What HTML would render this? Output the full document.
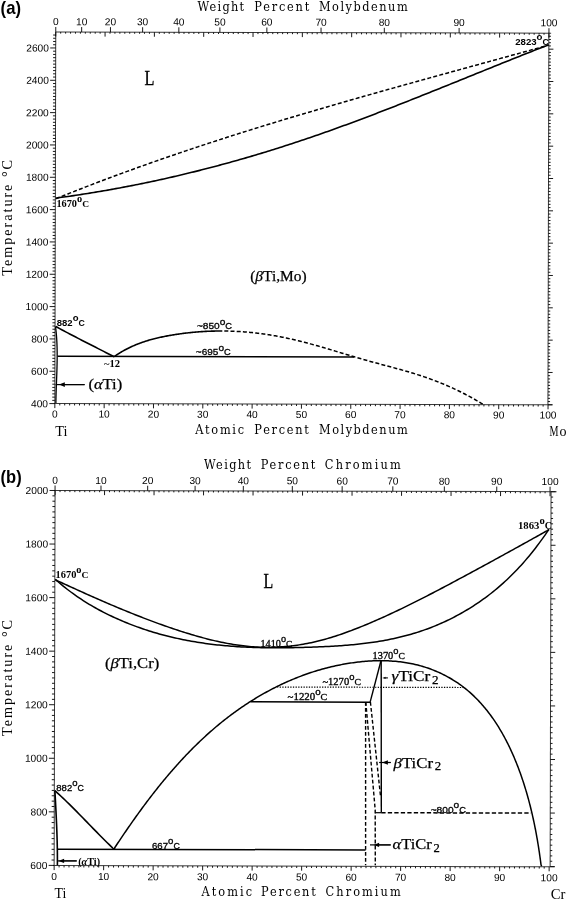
<!DOCTYPE html>
<html><head><meta charset="utf-8"><title>Ti-Mo and Ti-Cr phase diagrams</title><style>html,body{margin:0;padding:0;background:#fff;}svg{display:block;}</style></head><body>
<svg xmlns="http://www.w3.org/2000/svg" width="567" height="900" viewBox="0 0 567 900">
<rect width="567" height="900" fill="#fff"/>
<g stroke="#000" fill="none" stroke-linecap="butt" stroke-linejoin="round">
<g transform="rotate(0.14 302 218)">
<line x1="55.3" y1="32.6" x2="550.7" y2="32.6" stroke-width="1" stroke="#3a3a3a"/>
<line x1="54.3" y1="404.2" x2="552.9" y2="404.2" stroke-width="1" stroke="#3a3a3a"/>
<line x1="55.3" y1="32.6" x2="55.3" y2="404.2" stroke-width="1" stroke="#3a3a3a"/>
<line x1="548.4" y1="32.1" x2="548.4" y2="404.2" stroke-width="1" stroke="#3a3a3a"/>
<line x1="49.8" y1="404.2" x2="55.3" y2="404.2" stroke-width="0.9"/>
<line x1="548.4" y1="404.2" x2="553" y2="404.2" stroke-width="0.9"/>
<line x1="52.7" y1="400.97" x2="55.3" y2="400.97" stroke-width="0.9"/>
<line x1="548.4" y1="400.97" x2="550.5" y2="400.97" stroke-width="0.9"/>
<line x1="52.7" y1="397.73" x2="55.3" y2="397.73" stroke-width="0.9"/>
<line x1="548.4" y1="397.73" x2="550.5" y2="397.73" stroke-width="0.9"/>
<line x1="52.7" y1="394.5" x2="55.3" y2="394.5" stroke-width="0.9"/>
<line x1="548.4" y1="394.5" x2="550.5" y2="394.5" stroke-width="0.9"/>
<line x1="52.7" y1="391.27" x2="55.3" y2="391.27" stroke-width="0.9"/>
<line x1="548.4" y1="391.27" x2="550.5" y2="391.27" stroke-width="0.9"/>
<line x1="52.7" y1="388.03" x2="55.3" y2="388.03" stroke-width="0.9"/>
<line x1="548.4" y1="388.03" x2="550.5" y2="388.03" stroke-width="0.9"/>
<line x1="52.7" y1="384.8" x2="55.3" y2="384.8" stroke-width="0.9"/>
<line x1="548.4" y1="384.8" x2="550.5" y2="384.8" stroke-width="0.9"/>
<line x1="52.7" y1="381.57" x2="55.3" y2="381.57" stroke-width="0.9"/>
<line x1="548.4" y1="381.57" x2="550.5" y2="381.57" stroke-width="0.9"/>
<line x1="52.7" y1="378.34" x2="55.3" y2="378.34" stroke-width="0.9"/>
<line x1="548.4" y1="378.34" x2="550.5" y2="378.34" stroke-width="0.9"/>
<line x1="52.7" y1="375.1" x2="55.3" y2="375.1" stroke-width="0.9"/>
<line x1="548.4" y1="375.1" x2="550.5" y2="375.1" stroke-width="0.9"/>
<line x1="49.8" y1="371.87" x2="55.3" y2="371.87" stroke-width="0.9"/>
<line x1="548.4" y1="371.87" x2="553" y2="371.87" stroke-width="0.9"/>
<line x1="52.7" y1="368.64" x2="55.3" y2="368.64" stroke-width="0.9"/>
<line x1="548.4" y1="368.64" x2="550.5" y2="368.64" stroke-width="0.9"/>
<line x1="52.7" y1="365.4" x2="55.3" y2="365.4" stroke-width="0.9"/>
<line x1="548.4" y1="365.4" x2="550.5" y2="365.4" stroke-width="0.9"/>
<line x1="52.7" y1="362.17" x2="55.3" y2="362.17" stroke-width="0.9"/>
<line x1="548.4" y1="362.17" x2="550.5" y2="362.17" stroke-width="0.9"/>
<line x1="52.7" y1="358.94" x2="55.3" y2="358.94" stroke-width="0.9"/>
<line x1="548.4" y1="358.94" x2="550.5" y2="358.94" stroke-width="0.9"/>
<line x1="52.7" y1="355.7" x2="55.3" y2="355.7" stroke-width="0.9"/>
<line x1="548.4" y1="355.7" x2="550.5" y2="355.7" stroke-width="0.9"/>
<line x1="52.7" y1="352.47" x2="55.3" y2="352.47" stroke-width="0.9"/>
<line x1="548.4" y1="352.47" x2="550.5" y2="352.47" stroke-width="0.9"/>
<line x1="52.7" y1="349.24" x2="55.3" y2="349.24" stroke-width="0.9"/>
<line x1="548.4" y1="349.24" x2="550.5" y2="349.24" stroke-width="0.9"/>
<line x1="52.7" y1="346.01" x2="55.3" y2="346.01" stroke-width="0.9"/>
<line x1="548.4" y1="346.01" x2="550.5" y2="346.01" stroke-width="0.9"/>
<line x1="52.7" y1="342.77" x2="55.3" y2="342.77" stroke-width="0.9"/>
<line x1="548.4" y1="342.77" x2="550.5" y2="342.77" stroke-width="0.9"/>
<line x1="49.8" y1="339.54" x2="55.3" y2="339.54" stroke-width="0.9"/>
<line x1="548.4" y1="339.54" x2="553" y2="339.54" stroke-width="0.9"/>
<line x1="52.7" y1="336.31" x2="55.3" y2="336.31" stroke-width="0.9"/>
<line x1="548.4" y1="336.31" x2="550.5" y2="336.31" stroke-width="0.9"/>
<line x1="52.7" y1="333.07" x2="55.3" y2="333.07" stroke-width="0.9"/>
<line x1="548.4" y1="333.07" x2="550.5" y2="333.07" stroke-width="0.9"/>
<line x1="52.7" y1="329.84" x2="55.3" y2="329.84" stroke-width="0.9"/>
<line x1="548.4" y1="329.84" x2="550.5" y2="329.84" stroke-width="0.9"/>
<line x1="52.7" y1="326.61" x2="55.3" y2="326.61" stroke-width="0.9"/>
<line x1="548.4" y1="326.61" x2="550.5" y2="326.61" stroke-width="0.9"/>
<line x1="52.7" y1="323.38" x2="55.3" y2="323.38" stroke-width="0.9"/>
<line x1="548.4" y1="323.38" x2="550.5" y2="323.38" stroke-width="0.9"/>
<line x1="52.7" y1="320.14" x2="55.3" y2="320.14" stroke-width="0.9"/>
<line x1="548.4" y1="320.14" x2="550.5" y2="320.14" stroke-width="0.9"/>
<line x1="52.7" y1="316.91" x2="55.3" y2="316.91" stroke-width="0.9"/>
<line x1="548.4" y1="316.91" x2="550.5" y2="316.91" stroke-width="0.9"/>
<line x1="52.7" y1="313.68" x2="55.3" y2="313.68" stroke-width="0.9"/>
<line x1="548.4" y1="313.68" x2="550.5" y2="313.68" stroke-width="0.9"/>
<line x1="52.7" y1="310.44" x2="55.3" y2="310.44" stroke-width="0.9"/>
<line x1="548.4" y1="310.44" x2="550.5" y2="310.44" stroke-width="0.9"/>
<line x1="49.8" y1="307.21" x2="55.3" y2="307.21" stroke-width="0.9"/>
<line x1="548.4" y1="307.21" x2="553" y2="307.21" stroke-width="0.9"/>
<line x1="52.7" y1="303.98" x2="55.3" y2="303.98" stroke-width="0.9"/>
<line x1="548.4" y1="303.98" x2="550.5" y2="303.98" stroke-width="0.9"/>
<line x1="52.7" y1="300.74" x2="55.3" y2="300.74" stroke-width="0.9"/>
<line x1="548.4" y1="300.74" x2="550.5" y2="300.74" stroke-width="0.9"/>
<line x1="52.7" y1="297.51" x2="55.3" y2="297.51" stroke-width="0.9"/>
<line x1="548.4" y1="297.51" x2="550.5" y2="297.51" stroke-width="0.9"/>
<line x1="52.7" y1="294.28" x2="55.3" y2="294.28" stroke-width="0.9"/>
<line x1="548.4" y1="294.28" x2="550.5" y2="294.28" stroke-width="0.9"/>
<line x1="52.7" y1="291.05" x2="55.3" y2="291.05" stroke-width="0.9"/>
<line x1="548.4" y1="291.05" x2="550.5" y2="291.05" stroke-width="0.9"/>
<line x1="52.7" y1="287.81" x2="55.3" y2="287.81" stroke-width="0.9"/>
<line x1="548.4" y1="287.81" x2="550.5" y2="287.81" stroke-width="0.9"/>
<line x1="52.7" y1="284.58" x2="55.3" y2="284.58" stroke-width="0.9"/>
<line x1="548.4" y1="284.58" x2="550.5" y2="284.58" stroke-width="0.9"/>
<line x1="52.7" y1="281.35" x2="55.3" y2="281.35" stroke-width="0.9"/>
<line x1="548.4" y1="281.35" x2="550.5" y2="281.35" stroke-width="0.9"/>
<line x1="52.7" y1="278.11" x2="55.3" y2="278.11" stroke-width="0.9"/>
<line x1="548.4" y1="278.11" x2="550.5" y2="278.11" stroke-width="0.9"/>
<line x1="49.8" y1="274.88" x2="55.3" y2="274.88" stroke-width="0.9"/>
<line x1="548.4" y1="274.88" x2="553" y2="274.88" stroke-width="0.9"/>
<line x1="52.7" y1="271.65" x2="55.3" y2="271.65" stroke-width="0.9"/>
<line x1="548.4" y1="271.65" x2="550.5" y2="271.65" stroke-width="0.9"/>
<line x1="52.7" y1="268.41" x2="55.3" y2="268.41" stroke-width="0.9"/>
<line x1="548.4" y1="268.41" x2="550.5" y2="268.41" stroke-width="0.9"/>
<line x1="52.7" y1="265.18" x2="55.3" y2="265.18" stroke-width="0.9"/>
<line x1="548.4" y1="265.18" x2="550.5" y2="265.18" stroke-width="0.9"/>
<line x1="52.7" y1="261.95" x2="55.3" y2="261.95" stroke-width="0.9"/>
<line x1="548.4" y1="261.95" x2="550.5" y2="261.95" stroke-width="0.9"/>
<line x1="52.7" y1="258.72" x2="55.3" y2="258.72" stroke-width="0.9"/>
<line x1="548.4" y1="258.72" x2="550.5" y2="258.72" stroke-width="0.9"/>
<line x1="52.7" y1="255.48" x2="55.3" y2="255.48" stroke-width="0.9"/>
<line x1="548.4" y1="255.48" x2="550.5" y2="255.48" stroke-width="0.9"/>
<line x1="52.7" y1="252.25" x2="55.3" y2="252.25" stroke-width="0.9"/>
<line x1="548.4" y1="252.25" x2="550.5" y2="252.25" stroke-width="0.9"/>
<line x1="52.7" y1="249.02" x2="55.3" y2="249.02" stroke-width="0.9"/>
<line x1="548.4" y1="249.02" x2="550.5" y2="249.02" stroke-width="0.9"/>
<line x1="52.7" y1="245.78" x2="55.3" y2="245.78" stroke-width="0.9"/>
<line x1="548.4" y1="245.78" x2="550.5" y2="245.78" stroke-width="0.9"/>
<line x1="49.8" y1="242.55" x2="55.3" y2="242.55" stroke-width="0.9"/>
<line x1="548.4" y1="242.55" x2="553" y2="242.55" stroke-width="0.9"/>
<line x1="52.7" y1="239.32" x2="55.3" y2="239.32" stroke-width="0.9"/>
<line x1="548.4" y1="239.32" x2="550.5" y2="239.32" stroke-width="0.9"/>
<line x1="52.7" y1="236.08" x2="55.3" y2="236.08" stroke-width="0.9"/>
<line x1="548.4" y1="236.08" x2="550.5" y2="236.08" stroke-width="0.9"/>
<line x1="52.7" y1="232.85" x2="55.3" y2="232.85" stroke-width="0.9"/>
<line x1="548.4" y1="232.85" x2="550.5" y2="232.85" stroke-width="0.9"/>
<line x1="52.7" y1="229.62" x2="55.3" y2="229.62" stroke-width="0.9"/>
<line x1="548.4" y1="229.62" x2="550.5" y2="229.62" stroke-width="0.9"/>
<line x1="52.7" y1="226.38" x2="55.3" y2="226.38" stroke-width="0.9"/>
<line x1="548.4" y1="226.38" x2="550.5" y2="226.38" stroke-width="0.9"/>
<line x1="52.7" y1="223.15" x2="55.3" y2="223.15" stroke-width="0.9"/>
<line x1="548.4" y1="223.15" x2="550.5" y2="223.15" stroke-width="0.9"/>
<line x1="52.7" y1="219.92" x2="55.3" y2="219.92" stroke-width="0.9"/>
<line x1="548.4" y1="219.92" x2="550.5" y2="219.92" stroke-width="0.9"/>
<line x1="52.7" y1="216.69" x2="55.3" y2="216.69" stroke-width="0.9"/>
<line x1="548.4" y1="216.69" x2="550.5" y2="216.69" stroke-width="0.9"/>
<line x1="52.7" y1="213.45" x2="55.3" y2="213.45" stroke-width="0.9"/>
<line x1="548.4" y1="213.45" x2="550.5" y2="213.45" stroke-width="0.9"/>
<line x1="49.8" y1="210.22" x2="55.3" y2="210.22" stroke-width="0.9"/>
<line x1="548.4" y1="210.22" x2="553" y2="210.22" stroke-width="0.9"/>
<line x1="52.7" y1="206.99" x2="55.3" y2="206.99" stroke-width="0.9"/>
<line x1="548.4" y1="206.99" x2="550.5" y2="206.99" stroke-width="0.9"/>
<line x1="52.7" y1="203.75" x2="55.3" y2="203.75" stroke-width="0.9"/>
<line x1="548.4" y1="203.75" x2="550.5" y2="203.75" stroke-width="0.9"/>
<line x1="52.7" y1="200.52" x2="55.3" y2="200.52" stroke-width="0.9"/>
<line x1="548.4" y1="200.52" x2="550.5" y2="200.52" stroke-width="0.9"/>
<line x1="52.7" y1="197.29" x2="55.3" y2="197.29" stroke-width="0.9"/>
<line x1="548.4" y1="197.29" x2="550.5" y2="197.29" stroke-width="0.9"/>
<line x1="52.7" y1="194.06" x2="55.3" y2="194.06" stroke-width="0.9"/>
<line x1="548.4" y1="194.06" x2="550.5" y2="194.06" stroke-width="0.9"/>
<line x1="52.7" y1="190.82" x2="55.3" y2="190.82" stroke-width="0.9"/>
<line x1="548.4" y1="190.82" x2="550.5" y2="190.82" stroke-width="0.9"/>
<line x1="52.7" y1="187.59" x2="55.3" y2="187.59" stroke-width="0.9"/>
<line x1="548.4" y1="187.59" x2="550.5" y2="187.59" stroke-width="0.9"/>
<line x1="52.7" y1="184.36" x2="55.3" y2="184.36" stroke-width="0.9"/>
<line x1="548.4" y1="184.36" x2="550.5" y2="184.36" stroke-width="0.9"/>
<line x1="52.7" y1="181.12" x2="55.3" y2="181.12" stroke-width="0.9"/>
<line x1="548.4" y1="181.12" x2="550.5" y2="181.12" stroke-width="0.9"/>
<line x1="49.8" y1="177.89" x2="55.3" y2="177.89" stroke-width="0.9"/>
<line x1="548.4" y1="177.89" x2="553" y2="177.89" stroke-width="0.9"/>
<line x1="52.7" y1="174.66" x2="55.3" y2="174.66" stroke-width="0.9"/>
<line x1="548.4" y1="174.66" x2="550.5" y2="174.66" stroke-width="0.9"/>
<line x1="52.7" y1="171.42" x2="55.3" y2="171.42" stroke-width="0.9"/>
<line x1="548.4" y1="171.42" x2="550.5" y2="171.42" stroke-width="0.9"/>
<line x1="52.7" y1="168.19" x2="55.3" y2="168.19" stroke-width="0.9"/>
<line x1="548.4" y1="168.19" x2="550.5" y2="168.19" stroke-width="0.9"/>
<line x1="52.7" y1="164.96" x2="55.3" y2="164.96" stroke-width="0.9"/>
<line x1="548.4" y1="164.96" x2="550.5" y2="164.96" stroke-width="0.9"/>
<line x1="52.7" y1="161.72" x2="55.3" y2="161.72" stroke-width="0.9"/>
<line x1="548.4" y1="161.72" x2="550.5" y2="161.72" stroke-width="0.9"/>
<line x1="52.7" y1="158.49" x2="55.3" y2="158.49" stroke-width="0.9"/>
<line x1="548.4" y1="158.49" x2="550.5" y2="158.49" stroke-width="0.9"/>
<line x1="52.7" y1="155.26" x2="55.3" y2="155.26" stroke-width="0.9"/>
<line x1="548.4" y1="155.26" x2="550.5" y2="155.26" stroke-width="0.9"/>
<line x1="52.7" y1="152.03" x2="55.3" y2="152.03" stroke-width="0.9"/>
<line x1="548.4" y1="152.03" x2="550.5" y2="152.03" stroke-width="0.9"/>
<line x1="52.7" y1="148.79" x2="55.3" y2="148.79" stroke-width="0.9"/>
<line x1="548.4" y1="148.79" x2="550.5" y2="148.79" stroke-width="0.9"/>
<line x1="49.8" y1="145.56" x2="55.3" y2="145.56" stroke-width="0.9"/>
<line x1="548.4" y1="145.56" x2="553" y2="145.56" stroke-width="0.9"/>
<line x1="52.7" y1="142.33" x2="55.3" y2="142.33" stroke-width="0.9"/>
<line x1="548.4" y1="142.33" x2="550.5" y2="142.33" stroke-width="0.9"/>
<line x1="52.7" y1="139.09" x2="55.3" y2="139.09" stroke-width="0.9"/>
<line x1="548.4" y1="139.09" x2="550.5" y2="139.09" stroke-width="0.9"/>
<line x1="52.7" y1="135.86" x2="55.3" y2="135.86" stroke-width="0.9"/>
<line x1="548.4" y1="135.86" x2="550.5" y2="135.86" stroke-width="0.9"/>
<line x1="52.7" y1="132.63" x2="55.3" y2="132.63" stroke-width="0.9"/>
<line x1="548.4" y1="132.63" x2="550.5" y2="132.63" stroke-width="0.9"/>
<line x1="52.7" y1="129.39" x2="55.3" y2="129.39" stroke-width="0.9"/>
<line x1="548.4" y1="129.39" x2="550.5" y2="129.39" stroke-width="0.9"/>
<line x1="52.7" y1="126.16" x2="55.3" y2="126.16" stroke-width="0.9"/>
<line x1="548.4" y1="126.16" x2="550.5" y2="126.16" stroke-width="0.9"/>
<line x1="52.7" y1="122.93" x2="55.3" y2="122.93" stroke-width="0.9"/>
<line x1="548.4" y1="122.93" x2="550.5" y2="122.93" stroke-width="0.9"/>
<line x1="52.7" y1="119.7" x2="55.3" y2="119.7" stroke-width="0.9"/>
<line x1="548.4" y1="119.7" x2="550.5" y2="119.7" stroke-width="0.9"/>
<line x1="52.7" y1="116.46" x2="55.3" y2="116.46" stroke-width="0.9"/>
<line x1="548.4" y1="116.46" x2="550.5" y2="116.46" stroke-width="0.9"/>
<line x1="49.8" y1="113.23" x2="55.3" y2="113.23" stroke-width="0.9"/>
<line x1="548.4" y1="113.23" x2="553" y2="113.23" stroke-width="0.9"/>
<line x1="52.7" y1="110" x2="55.3" y2="110" stroke-width="0.9"/>
<line x1="548.4" y1="110" x2="550.5" y2="110" stroke-width="0.9"/>
<line x1="52.7" y1="106.76" x2="55.3" y2="106.76" stroke-width="0.9"/>
<line x1="548.4" y1="106.76" x2="550.5" y2="106.76" stroke-width="0.9"/>
<line x1="52.7" y1="103.53" x2="55.3" y2="103.53" stroke-width="0.9"/>
<line x1="548.4" y1="103.53" x2="550.5" y2="103.53" stroke-width="0.9"/>
<line x1="52.7" y1="100.3" x2="55.3" y2="100.3" stroke-width="0.9"/>
<line x1="548.4" y1="100.3" x2="550.5" y2="100.3" stroke-width="0.9"/>
<line x1="52.7" y1="97.06" x2="55.3" y2="97.06" stroke-width="0.9"/>
<line x1="548.4" y1="97.06" x2="550.5" y2="97.06" stroke-width="0.9"/>
<line x1="52.7" y1="93.83" x2="55.3" y2="93.83" stroke-width="0.9"/>
<line x1="548.4" y1="93.83" x2="550.5" y2="93.83" stroke-width="0.9"/>
<line x1="52.7" y1="90.6" x2="55.3" y2="90.6" stroke-width="0.9"/>
<line x1="548.4" y1="90.6" x2="550.5" y2="90.6" stroke-width="0.9"/>
<line x1="52.7" y1="87.37" x2="55.3" y2="87.37" stroke-width="0.9"/>
<line x1="548.4" y1="87.37" x2="550.5" y2="87.37" stroke-width="0.9"/>
<line x1="52.7" y1="84.13" x2="55.3" y2="84.13" stroke-width="0.9"/>
<line x1="548.4" y1="84.13" x2="550.5" y2="84.13" stroke-width="0.9"/>
<line x1="49.8" y1="80.9" x2="55.3" y2="80.9" stroke-width="0.9"/>
<line x1="548.4" y1="80.9" x2="553" y2="80.9" stroke-width="0.9"/>
<line x1="52.7" y1="77.67" x2="55.3" y2="77.67" stroke-width="0.9"/>
<line x1="548.4" y1="77.67" x2="550.5" y2="77.67" stroke-width="0.9"/>
<line x1="52.7" y1="74.43" x2="55.3" y2="74.43" stroke-width="0.9"/>
<line x1="548.4" y1="74.43" x2="550.5" y2="74.43" stroke-width="0.9"/>
<line x1="52.7" y1="71.2" x2="55.3" y2="71.2" stroke-width="0.9"/>
<line x1="548.4" y1="71.2" x2="550.5" y2="71.2" stroke-width="0.9"/>
<line x1="52.7" y1="67.97" x2="55.3" y2="67.97" stroke-width="0.9"/>
<line x1="548.4" y1="67.97" x2="550.5" y2="67.97" stroke-width="0.9"/>
<line x1="52.7" y1="64.74" x2="55.3" y2="64.74" stroke-width="0.9"/>
<line x1="548.4" y1="64.74" x2="550.5" y2="64.74" stroke-width="0.9"/>
<line x1="52.7" y1="61.5" x2="55.3" y2="61.5" stroke-width="0.9"/>
<line x1="548.4" y1="61.5" x2="550.5" y2="61.5" stroke-width="0.9"/>
<line x1="52.7" y1="58.27" x2="55.3" y2="58.27" stroke-width="0.9"/>
<line x1="548.4" y1="58.27" x2="550.5" y2="58.27" stroke-width="0.9"/>
<line x1="52.7" y1="55.04" x2="55.3" y2="55.04" stroke-width="0.9"/>
<line x1="548.4" y1="55.04" x2="550.5" y2="55.04" stroke-width="0.9"/>
<line x1="52.7" y1="51.8" x2="55.3" y2="51.8" stroke-width="0.9"/>
<line x1="548.4" y1="51.8" x2="550.5" y2="51.8" stroke-width="0.9"/>
<line x1="49.8" y1="48.57" x2="55.3" y2="48.57" stroke-width="0.9"/>
<line x1="548.4" y1="48.57" x2="553" y2="48.57" stroke-width="0.9"/>
<line x1="52.7" y1="45.34" x2="55.3" y2="45.34" stroke-width="0.9"/>
<line x1="548.4" y1="45.34" x2="550.5" y2="45.34" stroke-width="0.9"/>
<line x1="52.7" y1="42.1" x2="55.3" y2="42.1" stroke-width="0.9"/>
<line x1="548.4" y1="42.1" x2="550.5" y2="42.1" stroke-width="0.9"/>
<line x1="52.7" y1="38.87" x2="55.3" y2="38.87" stroke-width="0.9"/>
<line x1="548.4" y1="38.87" x2="550.5" y2="38.87" stroke-width="0.9"/>
<line x1="52.7" y1="35.64" x2="55.3" y2="35.64" stroke-width="0.9"/>
<line x1="548.4" y1="35.64" x2="550.5" y2="35.64" stroke-width="0.9"/>
<line x1="55.3" y1="404.2" x2="55.3" y2="408.7" stroke-width="0.9"/>
<line x1="55.3" y1="32.6" x2="55.3" y2="37.1" stroke-width="0.9"/>
<line x1="60.23" y1="404.2" x2="60.23" y2="406" stroke-width="0.9"/>
<line x1="60.23" y1="32.6" x2="60.23" y2="34.2" stroke-width="0.9"/>
<line x1="65.16" y1="404.2" x2="65.16" y2="406" stroke-width="0.9"/>
<line x1="65.16" y1="32.6" x2="65.16" y2="34.2" stroke-width="0.9"/>
<line x1="70.1" y1="404.2" x2="70.1" y2="406" stroke-width="0.9"/>
<line x1="70.1" y1="32.6" x2="70.1" y2="34.2" stroke-width="0.9"/>
<line x1="75.03" y1="404.2" x2="75.03" y2="406" stroke-width="0.9"/>
<line x1="75.03" y1="32.6" x2="75.03" y2="34.2" stroke-width="0.9"/>
<line x1="79.96" y1="404.2" x2="79.96" y2="406" stroke-width="0.9"/>
<line x1="79.96" y1="32.6" x2="79.96" y2="34.2" stroke-width="0.9"/>
<line x1="84.89" y1="404.2" x2="84.89" y2="406" stroke-width="0.9"/>
<line x1="84.89" y1="32.6" x2="84.89" y2="34.2" stroke-width="0.9"/>
<line x1="89.82" y1="404.2" x2="89.82" y2="406" stroke-width="0.9"/>
<line x1="89.82" y1="32.6" x2="89.82" y2="34.2" stroke-width="0.9"/>
<line x1="94.76" y1="404.2" x2="94.76" y2="406" stroke-width="0.9"/>
<line x1="94.76" y1="32.6" x2="94.76" y2="34.2" stroke-width="0.9"/>
<line x1="99.69" y1="404.2" x2="99.69" y2="406" stroke-width="0.9"/>
<line x1="99.69" y1="32.6" x2="99.69" y2="34.2" stroke-width="0.9"/>
<line x1="104.62" y1="404.2" x2="104.62" y2="408.7" stroke-width="0.9"/>
<line x1="104.62" y1="32.6" x2="104.62" y2="37.1" stroke-width="0.9"/>
<line x1="109.55" y1="404.2" x2="109.55" y2="406" stroke-width="0.9"/>
<line x1="109.55" y1="32.6" x2="109.55" y2="34.2" stroke-width="0.9"/>
<line x1="114.48" y1="404.2" x2="114.48" y2="406" stroke-width="0.9"/>
<line x1="114.48" y1="32.6" x2="114.48" y2="34.2" stroke-width="0.9"/>
<line x1="119.42" y1="404.2" x2="119.42" y2="406" stroke-width="0.9"/>
<line x1="119.42" y1="32.6" x2="119.42" y2="34.2" stroke-width="0.9"/>
<line x1="124.35" y1="404.2" x2="124.35" y2="406" stroke-width="0.9"/>
<line x1="124.35" y1="32.6" x2="124.35" y2="34.2" stroke-width="0.9"/>
<line x1="129.28" y1="404.2" x2="129.28" y2="406" stroke-width="0.9"/>
<line x1="129.28" y1="32.6" x2="129.28" y2="34.2" stroke-width="0.9"/>
<line x1="134.21" y1="404.2" x2="134.21" y2="406" stroke-width="0.9"/>
<line x1="134.21" y1="32.6" x2="134.21" y2="34.2" stroke-width="0.9"/>
<line x1="139.14" y1="404.2" x2="139.14" y2="406" stroke-width="0.9"/>
<line x1="139.14" y1="32.6" x2="139.14" y2="34.2" stroke-width="0.9"/>
<line x1="144.08" y1="404.2" x2="144.08" y2="406" stroke-width="0.9"/>
<line x1="144.08" y1="32.6" x2="144.08" y2="34.2" stroke-width="0.9"/>
<line x1="149.01" y1="404.2" x2="149.01" y2="406" stroke-width="0.9"/>
<line x1="149.01" y1="32.6" x2="149.01" y2="34.2" stroke-width="0.9"/>
<line x1="153.94" y1="404.2" x2="153.94" y2="408.7" stroke-width="0.9"/>
<line x1="153.94" y1="32.6" x2="153.94" y2="37.1" stroke-width="0.9"/>
<line x1="158.87" y1="404.2" x2="158.87" y2="406" stroke-width="0.9"/>
<line x1="158.87" y1="32.6" x2="158.87" y2="34.2" stroke-width="0.9"/>
<line x1="163.8" y1="404.2" x2="163.8" y2="406" stroke-width="0.9"/>
<line x1="163.8" y1="32.6" x2="163.8" y2="34.2" stroke-width="0.9"/>
<line x1="168.74" y1="404.2" x2="168.74" y2="406" stroke-width="0.9"/>
<line x1="168.74" y1="32.6" x2="168.74" y2="34.2" stroke-width="0.9"/>
<line x1="173.67" y1="404.2" x2="173.67" y2="406" stroke-width="0.9"/>
<line x1="173.67" y1="32.6" x2="173.67" y2="34.2" stroke-width="0.9"/>
<line x1="178.6" y1="404.2" x2="178.6" y2="406" stroke-width="0.9"/>
<line x1="178.6" y1="32.6" x2="178.6" y2="34.2" stroke-width="0.9"/>
<line x1="183.53" y1="404.2" x2="183.53" y2="406" stroke-width="0.9"/>
<line x1="183.53" y1="32.6" x2="183.53" y2="34.2" stroke-width="0.9"/>
<line x1="188.46" y1="404.2" x2="188.46" y2="406" stroke-width="0.9"/>
<line x1="188.46" y1="32.6" x2="188.46" y2="34.2" stroke-width="0.9"/>
<line x1="193.4" y1="404.2" x2="193.4" y2="406" stroke-width="0.9"/>
<line x1="193.4" y1="32.6" x2="193.4" y2="34.2" stroke-width="0.9"/>
<line x1="198.33" y1="404.2" x2="198.33" y2="406" stroke-width="0.9"/>
<line x1="198.33" y1="32.6" x2="198.33" y2="34.2" stroke-width="0.9"/>
<line x1="203.26" y1="404.2" x2="203.26" y2="408.7" stroke-width="0.9"/>
<line x1="203.26" y1="32.6" x2="203.26" y2="37.1" stroke-width="0.9"/>
<line x1="208.19" y1="404.2" x2="208.19" y2="406" stroke-width="0.9"/>
<line x1="208.19" y1="32.6" x2="208.19" y2="34.2" stroke-width="0.9"/>
<line x1="213.12" y1="404.2" x2="213.12" y2="406" stroke-width="0.9"/>
<line x1="213.12" y1="32.6" x2="213.12" y2="34.2" stroke-width="0.9"/>
<line x1="218.06" y1="404.2" x2="218.06" y2="406" stroke-width="0.9"/>
<line x1="218.06" y1="32.6" x2="218.06" y2="34.2" stroke-width="0.9"/>
<line x1="222.99" y1="404.2" x2="222.99" y2="406" stroke-width="0.9"/>
<line x1="222.99" y1="32.6" x2="222.99" y2="34.2" stroke-width="0.9"/>
<line x1="227.92" y1="404.2" x2="227.92" y2="406" stroke-width="0.9"/>
<line x1="227.92" y1="32.6" x2="227.92" y2="34.2" stroke-width="0.9"/>
<line x1="232.85" y1="404.2" x2="232.85" y2="406" stroke-width="0.9"/>
<line x1="232.85" y1="32.6" x2="232.85" y2="34.2" stroke-width="0.9"/>
<line x1="237.78" y1="404.2" x2="237.78" y2="406" stroke-width="0.9"/>
<line x1="237.78" y1="32.6" x2="237.78" y2="34.2" stroke-width="0.9"/>
<line x1="242.72" y1="404.2" x2="242.72" y2="406" stroke-width="0.9"/>
<line x1="242.72" y1="32.6" x2="242.72" y2="34.2" stroke-width="0.9"/>
<line x1="247.65" y1="404.2" x2="247.65" y2="406" stroke-width="0.9"/>
<line x1="247.65" y1="32.6" x2="247.65" y2="34.2" stroke-width="0.9"/>
<line x1="252.58" y1="404.2" x2="252.58" y2="408.7" stroke-width="0.9"/>
<line x1="252.58" y1="32.6" x2="252.58" y2="37.1" stroke-width="0.9"/>
<line x1="257.51" y1="404.2" x2="257.51" y2="406" stroke-width="0.9"/>
<line x1="257.51" y1="32.6" x2="257.51" y2="34.2" stroke-width="0.9"/>
<line x1="262.44" y1="404.2" x2="262.44" y2="406" stroke-width="0.9"/>
<line x1="262.44" y1="32.6" x2="262.44" y2="34.2" stroke-width="0.9"/>
<line x1="267.38" y1="404.2" x2="267.38" y2="406" stroke-width="0.9"/>
<line x1="267.38" y1="32.6" x2="267.38" y2="34.2" stroke-width="0.9"/>
<line x1="272.31" y1="404.2" x2="272.31" y2="406" stroke-width="0.9"/>
<line x1="272.31" y1="32.6" x2="272.31" y2="34.2" stroke-width="0.9"/>
<line x1="277.24" y1="404.2" x2="277.24" y2="406" stroke-width="0.9"/>
<line x1="277.24" y1="32.6" x2="277.24" y2="34.2" stroke-width="0.9"/>
<line x1="282.17" y1="404.2" x2="282.17" y2="406" stroke-width="0.9"/>
<line x1="282.17" y1="32.6" x2="282.17" y2="34.2" stroke-width="0.9"/>
<line x1="287.1" y1="404.2" x2="287.1" y2="406" stroke-width="0.9"/>
<line x1="287.1" y1="32.6" x2="287.1" y2="34.2" stroke-width="0.9"/>
<line x1="292.04" y1="404.2" x2="292.04" y2="406" stroke-width="0.9"/>
<line x1="292.04" y1="32.6" x2="292.04" y2="34.2" stroke-width="0.9"/>
<line x1="296.97" y1="404.2" x2="296.97" y2="406" stroke-width="0.9"/>
<line x1="296.97" y1="32.6" x2="296.97" y2="34.2" stroke-width="0.9"/>
<line x1="301.9" y1="404.2" x2="301.9" y2="408.7" stroke-width="0.9"/>
<line x1="301.9" y1="32.6" x2="301.9" y2="37.1" stroke-width="0.9"/>
<line x1="306.83" y1="404.2" x2="306.83" y2="406" stroke-width="0.9"/>
<line x1="306.83" y1="32.6" x2="306.83" y2="34.2" stroke-width="0.9"/>
<line x1="311.76" y1="404.2" x2="311.76" y2="406" stroke-width="0.9"/>
<line x1="311.76" y1="32.6" x2="311.76" y2="34.2" stroke-width="0.9"/>
<line x1="316.7" y1="404.2" x2="316.7" y2="406" stroke-width="0.9"/>
<line x1="316.7" y1="32.6" x2="316.7" y2="34.2" stroke-width="0.9"/>
<line x1="321.63" y1="404.2" x2="321.63" y2="406" stroke-width="0.9"/>
<line x1="321.63" y1="32.6" x2="321.63" y2="34.2" stroke-width="0.9"/>
<line x1="326.56" y1="404.2" x2="326.56" y2="406" stroke-width="0.9"/>
<line x1="326.56" y1="32.6" x2="326.56" y2="34.2" stroke-width="0.9"/>
<line x1="331.49" y1="404.2" x2="331.49" y2="406" stroke-width="0.9"/>
<line x1="331.49" y1="32.6" x2="331.49" y2="34.2" stroke-width="0.9"/>
<line x1="336.42" y1="404.2" x2="336.42" y2="406" stroke-width="0.9"/>
<line x1="336.42" y1="32.6" x2="336.42" y2="34.2" stroke-width="0.9"/>
<line x1="341.36" y1="404.2" x2="341.36" y2="406" stroke-width="0.9"/>
<line x1="341.36" y1="32.6" x2="341.36" y2="34.2" stroke-width="0.9"/>
<line x1="346.29" y1="404.2" x2="346.29" y2="406" stroke-width="0.9"/>
<line x1="346.29" y1="32.6" x2="346.29" y2="34.2" stroke-width="0.9"/>
<line x1="351.22" y1="404.2" x2="351.22" y2="408.7" stroke-width="0.9"/>
<line x1="351.22" y1="32.6" x2="351.22" y2="37.1" stroke-width="0.9"/>
<line x1="356.15" y1="404.2" x2="356.15" y2="406" stroke-width="0.9"/>
<line x1="356.15" y1="32.6" x2="356.15" y2="34.2" stroke-width="0.9"/>
<line x1="361.08" y1="404.2" x2="361.08" y2="406" stroke-width="0.9"/>
<line x1="361.08" y1="32.6" x2="361.08" y2="34.2" stroke-width="0.9"/>
<line x1="366.02" y1="404.2" x2="366.02" y2="406" stroke-width="0.9"/>
<line x1="366.02" y1="32.6" x2="366.02" y2="34.2" stroke-width="0.9"/>
<line x1="370.95" y1="404.2" x2="370.95" y2="406" stroke-width="0.9"/>
<line x1="370.95" y1="32.6" x2="370.95" y2="34.2" stroke-width="0.9"/>
<line x1="375.88" y1="404.2" x2="375.88" y2="406" stroke-width="0.9"/>
<line x1="375.88" y1="32.6" x2="375.88" y2="34.2" stroke-width="0.9"/>
<line x1="380.81" y1="404.2" x2="380.81" y2="406" stroke-width="0.9"/>
<line x1="380.81" y1="32.6" x2="380.81" y2="34.2" stroke-width="0.9"/>
<line x1="385.74" y1="404.2" x2="385.74" y2="406" stroke-width="0.9"/>
<line x1="385.74" y1="32.6" x2="385.74" y2="34.2" stroke-width="0.9"/>
<line x1="390.68" y1="404.2" x2="390.68" y2="406" stroke-width="0.9"/>
<line x1="390.68" y1="32.6" x2="390.68" y2="34.2" stroke-width="0.9"/>
<line x1="395.61" y1="404.2" x2="395.61" y2="406" stroke-width="0.9"/>
<line x1="395.61" y1="32.6" x2="395.61" y2="34.2" stroke-width="0.9"/>
<line x1="400.54" y1="404.2" x2="400.54" y2="408.7" stroke-width="0.9"/>
<line x1="400.54" y1="32.6" x2="400.54" y2="37.1" stroke-width="0.9"/>
<line x1="405.47" y1="404.2" x2="405.47" y2="406" stroke-width="0.9"/>
<line x1="405.47" y1="32.6" x2="405.47" y2="34.2" stroke-width="0.9"/>
<line x1="410.4" y1="404.2" x2="410.4" y2="406" stroke-width="0.9"/>
<line x1="410.4" y1="32.6" x2="410.4" y2="34.2" stroke-width="0.9"/>
<line x1="415.34" y1="404.2" x2="415.34" y2="406" stroke-width="0.9"/>
<line x1="415.34" y1="32.6" x2="415.34" y2="34.2" stroke-width="0.9"/>
<line x1="420.27" y1="404.2" x2="420.27" y2="406" stroke-width="0.9"/>
<line x1="420.27" y1="32.6" x2="420.27" y2="34.2" stroke-width="0.9"/>
<line x1="425.2" y1="404.2" x2="425.2" y2="406" stroke-width="0.9"/>
<line x1="425.2" y1="32.6" x2="425.2" y2="34.2" stroke-width="0.9"/>
<line x1="430.13" y1="404.2" x2="430.13" y2="406" stroke-width="0.9"/>
<line x1="430.13" y1="32.6" x2="430.13" y2="34.2" stroke-width="0.9"/>
<line x1="435.06" y1="404.2" x2="435.06" y2="406" stroke-width="0.9"/>
<line x1="435.06" y1="32.6" x2="435.06" y2="34.2" stroke-width="0.9"/>
<line x1="440" y1="404.2" x2="440" y2="406" stroke-width="0.9"/>
<line x1="440" y1="32.6" x2="440" y2="34.2" stroke-width="0.9"/>
<line x1="444.93" y1="404.2" x2="444.93" y2="406" stroke-width="0.9"/>
<line x1="444.93" y1="32.6" x2="444.93" y2="34.2" stroke-width="0.9"/>
<line x1="449.86" y1="404.2" x2="449.86" y2="408.7" stroke-width="0.9"/>
<line x1="449.86" y1="32.6" x2="449.86" y2="37.1" stroke-width="0.9"/>
<line x1="454.79" y1="404.2" x2="454.79" y2="406" stroke-width="0.9"/>
<line x1="454.79" y1="32.6" x2="454.79" y2="34.2" stroke-width="0.9"/>
<line x1="459.72" y1="404.2" x2="459.72" y2="406" stroke-width="0.9"/>
<line x1="459.72" y1="32.6" x2="459.72" y2="34.2" stroke-width="0.9"/>
<line x1="464.66" y1="404.2" x2="464.66" y2="406" stroke-width="0.9"/>
<line x1="464.66" y1="32.6" x2="464.66" y2="34.2" stroke-width="0.9"/>
<line x1="469.59" y1="404.2" x2="469.59" y2="406" stroke-width="0.9"/>
<line x1="469.59" y1="32.6" x2="469.59" y2="34.2" stroke-width="0.9"/>
<line x1="474.52" y1="404.2" x2="474.52" y2="406" stroke-width="0.9"/>
<line x1="474.52" y1="32.6" x2="474.52" y2="34.2" stroke-width="0.9"/>
<line x1="479.45" y1="404.2" x2="479.45" y2="406" stroke-width="0.9"/>
<line x1="479.45" y1="32.6" x2="479.45" y2="34.2" stroke-width="0.9"/>
<line x1="484.38" y1="404.2" x2="484.38" y2="406" stroke-width="0.9"/>
<line x1="484.38" y1="32.6" x2="484.38" y2="34.2" stroke-width="0.9"/>
<line x1="489.32" y1="404.2" x2="489.32" y2="406" stroke-width="0.9"/>
<line x1="489.32" y1="32.6" x2="489.32" y2="34.2" stroke-width="0.9"/>
<line x1="494.25" y1="404.2" x2="494.25" y2="406" stroke-width="0.9"/>
<line x1="494.25" y1="32.6" x2="494.25" y2="34.2" stroke-width="0.9"/>
<line x1="499.18" y1="404.2" x2="499.18" y2="408.7" stroke-width="0.9"/>
<line x1="499.18" y1="32.6" x2="499.18" y2="37.1" stroke-width="0.9"/>
<line x1="504.11" y1="404.2" x2="504.11" y2="406" stroke-width="0.9"/>
<line x1="504.11" y1="32.6" x2="504.11" y2="34.2" stroke-width="0.9"/>
<line x1="509.04" y1="404.2" x2="509.04" y2="406" stroke-width="0.9"/>
<line x1="509.04" y1="32.6" x2="509.04" y2="34.2" stroke-width="0.9"/>
<line x1="513.98" y1="404.2" x2="513.98" y2="406" stroke-width="0.9"/>
<line x1="513.98" y1="32.6" x2="513.98" y2="34.2" stroke-width="0.9"/>
<line x1="518.91" y1="404.2" x2="518.91" y2="406" stroke-width="0.9"/>
<line x1="518.91" y1="32.6" x2="518.91" y2="34.2" stroke-width="0.9"/>
<line x1="523.84" y1="404.2" x2="523.84" y2="406" stroke-width="0.9"/>
<line x1="523.84" y1="32.6" x2="523.84" y2="34.2" stroke-width="0.9"/>
<line x1="528.77" y1="404.2" x2="528.77" y2="406" stroke-width="0.9"/>
<line x1="528.77" y1="32.6" x2="528.77" y2="34.2" stroke-width="0.9"/>
<line x1="533.7" y1="404.2" x2="533.7" y2="406" stroke-width="0.9"/>
<line x1="533.7" y1="32.6" x2="533.7" y2="34.2" stroke-width="0.9"/>
<line x1="538.64" y1="404.2" x2="538.64" y2="406" stroke-width="0.9"/>
<line x1="538.64" y1="32.6" x2="538.64" y2="34.2" stroke-width="0.9"/>
<line x1="543.57" y1="404.2" x2="543.57" y2="406" stroke-width="0.9"/>
<line x1="543.57" y1="32.6" x2="543.57" y2="34.2" stroke-width="0.9"/>
<line x1="548.5" y1="404.2" x2="548.5" y2="408.7" stroke-width="0.9"/>
<line x1="548.5" y1="32.6" x2="548.5" y2="37.1" stroke-width="0.9"/>
<line x1="55.3" y1="27.6" x2="55.3" y2="32.6" stroke-width="0.9"/>
<line x1="81.2" y1="27.6" x2="81.2" y2="32.6" stroke-width="0.9"/>
<line x1="109.99" y1="27.6" x2="109.99" y2="32.6" stroke-width="0.9"/>
<line x1="142.17" y1="27.6" x2="142.17" y2="32.6" stroke-width="0.9"/>
<line x1="178.39" y1="27.6" x2="178.39" y2="32.6" stroke-width="0.9"/>
<line x1="219.45" y1="27.6" x2="219.45" y2="32.6" stroke-width="0.9"/>
<line x1="266.4" y1="27.6" x2="266.4" y2="32.6" stroke-width="0.9"/>
<line x1="320.59" y1="27.6" x2="320.59" y2="32.6" stroke-width="0.9"/>
<line x1="383.85" y1="27.6" x2="383.85" y2="32.6" stroke-width="0.9"/>
<line x1="458.66" y1="27.6" x2="458.66" y2="32.6" stroke-width="0.9"/>
<line x1="548.5" y1="27.6" x2="548.5" y2="32.6" stroke-width="0.9"/>
</g>
<path d="M55.8,198.5 L57.8,197.96 L59.8,197.15 L61.8,196.35 L63.8,195.55 L65.8,194.75 L67.8,193.95 L69.8,193.16 L71.8,192.37 L73.8,191.58 L75.8,190.79 L77.8,190.01 L79.8,189.23 L81.8,188.45 L83.8,187.67 L85.8,186.89 L87.8,186.12 L89.8,185.35 L91.8,184.58 L93.8,183.82 L95.8,183.06 L97.8,182.29 L99.8,181.54 L101.8,180.78 L103.8,180.02 L105.8,179.27 L107.8,178.52 L109.8,177.77 L111.8,177.03 L113.8,176.29 L115.8,175.54 L117.8,174.81 L119.8,174.07 L121.8,173.33 L123.8,172.6 L125.8,171.87 L127.8,171.14 L129.8,170.41 L131.8,169.69 L133.8,168.97 L135.8,168.25 L137.8,167.53 L139.8,166.81 L141.8,166.1 L143.8,165.38 L145.8,164.67 L147.8,163.96 L149.8,163.26 L151.8,162.55 L153.8,161.85 L155.8,161.15 L157.8,160.45 L159.8,159.75 L161.8,159.06 L163.8,158.36 L165.8,157.67 L167.8,156.98 L169.8,156.29 L171.8,155.61 L173.8,154.92 L175.8,154.24 L177.8,153.56 L179.8,152.88 L181.8,152.2 L183.8,151.53 L185.8,150.85 L187.8,150.18 L189.8,149.51 L191.8,148.84 L193.8,148.17 L195.8,147.51 L197.8,146.84 L199.8,146.18 L201.8,145.52 L203.8,144.86 L205.8,144.21 L207.8,143.55 L209.8,142.9 L211.8,142.24 L213.8,141.59 L215.8,140.94 L217.8,140.29 L219.8,139.65 L221.8,139 L223.8,138.36 L225.8,137.72 L227.8,137.08 L229.8,136.44 L231.8,135.8 L233.8,135.16 L235.8,134.53 L237.8,133.9 L239.8,133.26 L241.8,132.63 L243.8,132 L245.8,131.38 L247.8,130.75 L249.8,130.13 L251.8,129.5 L253.8,128.88 L255.8,128.26 L257.8,127.64 L259.8,127.02 L261.8,126.4 L263.8,125.79 L265.8,125.17 L267.8,124.56 L269.8,123.95 L271.8,123.34 L273.8,122.73 L275.8,122.12 L277.8,121.51 L279.8,120.9 L281.8,120.3 L283.8,119.69 L285.8,119.09 L287.8,118.49 L289.8,117.89 L291.8,117.29 L293.8,116.69 L295.8,116.09 L297.8,115.5 L299.8,114.9 L301.8,114.31 L303.8,113.72 L305.8,113.12 L307.8,112.53 L309.8,111.94 L311.8,111.35 L313.8,110.76 L315.8,110.18 L317.8,109.59 L319.8,109.01 L321.8,108.42 L323.8,107.84 L325.8,107.25 L327.8,106.67 L329.8,106.09 L331.8,105.51 L333.8,104.93 L335.8,104.35 L337.8,103.78 L339.8,103.2 L341.8,102.62 L343.8,102.05 L345.8,101.47 L347.8,100.9 L349.8,100.33 L351.8,99.76 L353.8,99.18 L355.8,98.61 L357.8,98.04 L359.8,97.47 L361.8,96.91 L363.8,96.34 L365.8,95.77 L367.8,95.2 L369.8,94.64 L371.8,94.07 L373.8,93.51 L375.8,92.94 L377.8,92.38 L379.8,91.82 L381.8,91.26 L383.8,90.69 L385.8,90.13 L387.8,89.57 L389.8,89.01 L391.8,88.45 L393.8,87.89 L395.8,87.33 L397.8,86.77 L399.8,86.22 L401.8,85.66 L403.8,85.1 L405.8,84.55 L407.8,83.99 L409.8,83.43 L411.8,82.88 L413.8,82.32 L415.8,81.77 L417.8,81.21 L419.8,80.66 L421.8,80.11 L423.8,79.55 L425.8,79 L427.8,78.45 L429.8,77.9 L431.8,77.34 L433.8,76.79 L435.8,76.24 L437.8,75.69 L439.8,75.14 L441.8,74.59 L443.8,74.04 L445.8,73.48 L447.8,72.93 L449.8,72.38 L451.8,71.83 L453.8,71.28 L455.8,70.73 L457.8,70.18 L459.8,69.63 L461.8,69.08 L463.8,68.54 L465.8,67.99 L467.8,67.44 L469.8,66.89 L471.8,66.34 L473.8,65.79 L475.8,65.24 L477.8,64.69 L479.8,64.14 L481.8,63.59 L483.8,63.04 L485.8,62.49 L487.8,61.94 L489.8,61.39 L491.8,60.84 L493.8,60.29 L495.8,59.74 L497.8,59.19 L499.8,58.64 L501.8,58.09 L503.8,57.54 L505.8,56.99 L507.8,56.44 L509.8,55.89 L511.8,55.34 L513.8,54.79 L515.8,54.24 L517.8,53.69 L519.8,53.13 L521.8,52.58 L523.8,52.03 L525.8,51.47 L527.8,50.92 L529.8,50.37 L531.8,49.81 L533.8,49.26 L535.8,48.71 L537.8,48.15 L539.8,47.6 L541.8,47.04 L543.8,46.48 L545.8,45.93 L547.8,45.37 L548.6,45" stroke-width="1.5" stroke-dasharray="4 2.2"/>
<path d="M55.8,198.5 L57.8,197.83 L59.8,197.56 L61.8,197.29 L63.8,197.02 L65.8,196.74 L67.8,196.46 L69.8,196.17 L71.8,195.88 L73.8,195.59 L75.8,195.29 L77.8,194.99 L79.8,194.69 L81.8,194.38 L83.8,194.07 L85.8,193.76 L87.8,193.44 L89.8,193.12 L91.8,192.8 L93.8,192.47 L95.8,192.14 L97.8,191.81 L99.8,191.47 L101.8,191.13 L103.8,190.79 L105.8,190.44 L107.8,190.09 L109.8,189.74 L111.8,189.38 L113.8,189.02 L115.8,188.65 L117.8,188.29 L119.8,187.92 L121.8,187.54 L123.8,187.16 L125.8,186.78 L127.8,186.4 L129.8,186.01 L131.8,185.62 L133.8,185.23 L135.8,184.83 L137.8,184.43 L139.8,184.02 L141.8,183.62 L143.8,183.21 L145.8,182.79 L147.8,182.37 L149.8,181.95 L151.8,181.53 L153.8,181.1 L155.8,180.67 L157.8,180.23 L159.8,179.8 L161.8,179.36 L163.8,178.91 L165.8,178.46 L167.8,178.01 L169.8,177.56 L171.8,177.1 L173.8,176.64 L175.8,176.18 L177.8,175.71 L179.8,175.24 L181.8,174.76 L183.8,174.29 L185.8,173.81 L187.8,173.32 L189.8,172.83 L191.8,172.34 L193.8,171.85 L195.8,171.35 L197.8,170.85 L199.8,170.35 L201.8,169.84 L203.8,169.33 L205.8,168.82 L207.8,168.3 L209.8,167.78 L211.8,167.26 L213.8,166.73 L215.8,166.2 L217.8,165.67 L219.8,165.13 L221.8,164.59 L223.8,164.05 L225.8,163.5 L227.8,162.95 L229.8,162.4 L231.8,161.84 L233.8,161.28 L235.8,160.72 L237.8,160.16 L239.8,159.59 L241.8,159.01 L243.8,158.44 L245.8,157.86 L247.8,157.28 L249.8,156.69 L251.8,156.11 L253.8,155.51 L255.8,154.92 L257.8,154.32 L259.8,153.72 L261.8,153.11 L263.8,152.51 L265.8,151.9 L267.8,151.28 L269.8,150.66 L271.8,150.04 L273.8,149.42 L275.8,148.79 L277.8,148.16 L279.8,147.53 L281.8,146.89 L283.8,146.25 L285.8,145.61 L287.8,144.96 L289.8,144.32 L291.8,143.66 L293.8,143.01 L295.8,142.35 L297.8,141.69 L299.8,141.02 L301.8,140.35 L303.8,139.68 L305.8,139.01 L307.8,138.33 L309.8,137.65 L311.8,136.96 L313.8,136.28 L315.8,135.59 L317.8,134.89 L319.8,134.2 L321.8,133.5 L323.8,132.79 L325.8,132.09 L327.8,131.38 L329.8,130.67 L331.8,129.96 L333.8,129.24 L335.8,128.52 L337.8,127.8 L339.8,127.07 L341.8,126.35 L343.8,125.62 L345.8,124.89 L347.8,124.15 L349.8,123.41 L351.8,122.68 L353.8,121.93 L355.8,121.19 L357.8,120.44 L359.8,119.7 L361.8,118.94 L363.8,118.19 L365.8,117.44 L367.8,116.68 L369.8,115.92 L371.8,115.16 L373.8,114.4 L375.8,113.63 L377.8,112.87 L379.8,112.1 L381.8,111.33 L383.8,110.56 L385.8,109.78 L387.8,109.01 L389.8,108.23 L391.8,107.45 L393.8,106.67 L395.8,105.89 L397.8,105.11 L399.8,104.32 L401.8,103.54 L403.8,102.75 L405.8,101.96 L407.8,101.17 L409.8,100.38 L411.8,99.59 L413.8,98.8 L415.8,98 L417.8,97.21 L419.8,96.41 L421.8,95.61 L423.8,94.82 L425.8,94.02 L427.8,93.22 L429.8,92.42 L431.8,91.61 L433.8,90.81 L435.8,90.01 L437.8,89.2 L439.8,88.4 L441.8,87.59 L443.8,86.79 L445.8,85.98 L447.8,85.18 L449.8,84.37 L451.8,83.56 L453.8,82.75 L455.8,81.95 L457.8,81.14 L459.8,80.33 L461.8,79.52 L463.8,78.71 L465.8,77.9 L467.8,77.09 L469.8,76.28 L471.8,75.47 L473.8,74.67 L475.8,73.86 L477.8,73.05 L479.8,72.24 L481.8,71.43 L483.8,70.62 L485.8,69.81 L487.8,69.01 L489.8,68.2 L491.8,67.39 L493.8,66.58 L495.8,65.78 L497.8,64.97 L499.8,64.17 L501.8,63.36 L503.8,62.56 L505.8,61.76 L507.8,60.95 L509.8,60.15 L511.8,59.35 L513.8,58.55 L515.8,57.75 L517.8,56.95 L519.8,56.16 L521.8,55.36 L523.8,54.57 L525.8,53.77 L527.8,52.98 L529.8,52.19 L531.8,51.4 L533.8,50.61 L535.8,49.82 L537.8,49.03 L539.8,48.25 L541.8,47.46 L543.8,46.68 L545.8,45.9 L547.8,45.12 L548.6,45" stroke-width="1.6"/>
<path d="M55.7,326.5 L57.7,327.57 L59.7,328.65 L61.7,329.72 L63.7,330.79 L65.7,331.85 L67.7,332.91 L69.7,333.96 L71.7,335 L73.7,336.04 L75.7,337.08 L77.7,338.11 L79.7,339.15 L81.7,340.17 L83.7,341.2 L85.7,342.22 L87.7,343.24 L89.7,344.27 L91.7,345.29 L93.7,346.31 L95.7,347.32 L97.7,348.34 L99.7,349.37 L101.7,350.39 L103.7,351.41 L105.7,352.43 L107.7,353.46 L109.7,354.49 L111.7,355.52 L113.7,356.56 L114.3,356.9" stroke-width="1.6"/>
<path d="M55.6,326.5 L55.76,328.5 L55.98,330.5 L56.19,332.5 L56.37,334.5 L56.53,336.5 L56.67,338.5 L56.79,340.5 L56.89,342.5 L56.97,344.5 L57.04,346.5 L57.1,348.5 L57.13,350.5 L57.16,352.5 L57.17,354.5 L57.17,356.5 L57.16,358.5 L57.13,360.5 L57.1,362.5 L57.06,364.5 L57.01,366.5 L56.96,368.5 L56.9,370.5 L56.84,372.5 L56.77,374.5 L56.69,376.5 L56.62,378.5 L56.54,380.5 L56.47,382.5 L56.39,384.5 L56.32,386.5 L56.25,388.5 L56.18,390.5 L56.11,392.5 L56.05,394.5 L56,396.5 L55.95,398.5 L55.91,400.5 L55.88,402.5 L55.9,403" stroke-width="1.3"/>
<line x1="57.5" y1="356.18" x2="354" y2="356.92" stroke-width="1.5"/>
<path d="M114.3,356.8 L115.3,355.79 L116.3,355.12 L117.3,354.47 L118.3,353.84 L119.3,353.22 L120.3,352.61 L121.3,352.01 L122.3,351.43 L123.3,350.86 L124.3,350.31 L125.3,349.77 L126.3,349.24 L127.3,348.72 L128.3,348.22 L129.3,347.72 L130.3,347.24 L131.3,346.77 L132.3,346.32 L133.3,345.87 L134.3,345.44 L135.3,345.01 L136.3,344.6 L137.3,344.19 L138.3,343.8 L139.3,343.42 L140.3,343.04 L141.3,342.68 L142.3,342.32 L143.3,341.98 L144.3,341.64 L145.3,341.32 L146.3,341 L147.3,340.69 L148.3,340.38 L149.3,340.09 L150.3,339.8 L151.3,339.52 L152.3,339.25 L153.3,338.99 L154.3,338.73 L155.3,338.48 L156.3,338.23 L157.3,337.99 L158.3,337.76 L159.3,337.53 L160.3,337.31 L161.3,337.1 L162.3,336.89 L163.3,336.68 L164.3,336.48 L165.3,336.29 L166.3,336.1 L167.3,335.91 L168.3,335.73 L169.3,335.55 L170.3,335.37 L171.3,335.2 L172.3,335.03 L173.3,334.87 L174.3,334.71 L175.3,334.55 L176.3,334.4 L177.3,334.24 L178.3,334.1 L179.3,333.95 L180.3,333.81 L181.3,333.68 L182.3,333.54 L183.3,333.41 L184.3,333.29 L185.3,333.16 L186.3,333.04 L187.3,332.93 L188.3,332.82 L189.3,332.71 L190.3,332.6 L191.3,332.5 L192.3,332.4 L193.3,332.3 L194.3,332.21 L195.3,332.12 L196.3,332.04 L197.3,331.96 L198.3,331.88 L199.3,331.8 L200.3,331.73 L201.3,331.66 L202.3,331.6 L203.3,331.54 L204.3,331.48 L205.3,331.42 L206.3,331.37 L207.3,331.32 L208.3,331.28 L209.3,331.24 L210.3,331.2 L211.3,331.17 L212.3,331.14 L213.3,331.11 L214.3,331.08 L215.3,331.06 L216.3,331.05 L217.3,331.03 L218.3,331.02 L219.3,331.01 L220.3,331.01 L221.3,331.01 L222.3,331.01" stroke-width="1.6"/>
<path d="M224.3,331.03 L225.3,331.04 L226.3,331.05 L227.3,331.07 L228.3,331.1 L229.3,331.12 L230.3,331.15 L231.3,331.18 L232.3,331.22 L233.3,331.26 L234.3,331.3 L235.3,331.35 L236.3,331.39 L237.3,331.45 L238.3,331.5 L239.3,331.56 L240.3,331.62 L241.3,331.69 L242.3,331.76 L243.3,331.83 L244.3,331.9 L245.3,331.98 L246.3,332.06 L247.3,332.15 L248.3,332.24 L249.3,332.33 L250.3,332.42 L251.3,332.52 L252.3,332.62 L253.3,332.73 L254.3,332.84 L255.3,332.95 L256.3,333.06 L257.3,333.18 L258.3,333.3 L259.3,333.42 L260.3,333.55 L261.3,333.68 L262.3,333.81 L263.3,333.95 L264.3,334.09 L265.3,334.23 L266.3,334.38 L267.3,334.53 L268.3,334.68 L269.3,334.84 L270.3,335 L271.3,335.16 L272.3,335.33 L273.3,335.5 L274.3,335.67 L275.3,335.84 L276.3,336.02 L277.3,336.2 L278.3,336.39 L279.3,336.57 L280.3,336.77 L281.3,336.96 L282.3,337.16 L283.3,337.36 L284.3,337.56 L285.3,337.77 L286.3,337.98 L287.3,338.19 L288.3,338.41 L289.3,338.63 L290.3,338.85 L291.3,339.07 L292.3,339.3 L293.3,339.53 L294.3,339.77 L295.3,340 L296.3,340.24 L297.3,340.49 L298.3,340.73 L299.3,340.98 L300.3,341.23 L301.3,341.48 L302.3,341.74 L303.3,341.99 L304.3,342.25 L305.3,342.51 L306.3,342.78 L307.3,343.04 L308.3,343.31 L309.3,343.58 L310.3,343.85 L311.3,344.13 L312.3,344.4 L313.3,344.68 L314.3,344.96 L315.3,345.24 L316.3,345.52 L317.3,345.81 L318.3,346.09 L319.3,346.38 L320.3,346.67 L321.3,346.95 L322.3,347.24 L323.3,347.54 L324.3,347.83 L325.3,348.12 L326.3,348.42 L327.3,348.71 L328.3,349.01 L329.3,349.3 L330.3,349.6 L331.3,349.9 L332.3,350.2 L333.3,350.5 L334.3,350.8 L335.3,351.1 L336.3,351.4 L337.3,351.7 L338.3,352 L339.3,352.3 L340.3,352.6 L341.3,352.91 L342.3,353.21 L343.3,353.51 L344.3,353.81 L345.3,354.11 L346.3,354.41 L347.3,354.71 L348.3,355.01 L349.3,355.31 L350.3,355.61 L351.3,355.91 L352.3,356.21 L353.3,356.51 L354.3,356.81 L355.3,357.1 L356.3,357.4 L357.3,357.69 L358.3,357.99 L359.3,358.28 L360.3,358.57 L361.3,358.86 L362.3,359.15 L363.3,359.44 L364.3,359.72 L365.3,360.01 L366.3,360.29 L367.3,360.58 L368.3,360.86 L369.3,361.14 L370.3,361.41 L371.3,361.69 L372.3,361.96 L373.3,362.24 L374.3,362.51 L375.3,362.78 L376.3,363.05 L377.3,363.32 L378.3,363.59 L379.3,363.86 L380.3,364.13 L381.3,364.4 L382.3,364.67 L383.3,364.93 L384.3,365.2 L385.3,365.47 L386.3,365.73 L387.3,366 L388.3,366.27 L389.3,366.54 L390.3,366.81 L391.3,367.08 L392.3,367.35 L393.3,367.62 L394.3,367.89 L395.3,368.16 L396.3,368.43 L397.3,368.71 L398.3,368.98 L399.3,369.26 L400.3,369.54 L401.3,369.82 L402.3,370.1 L403.3,370.39 L404.3,370.67 L405.3,370.96 L406.3,371.25 L407.3,371.54 L408.3,371.83 L409.3,372.13 L410.3,372.43 L411.3,372.73 L412.3,373.03 L413.3,373.34 L414.3,373.65 L415.3,373.96 L416.3,374.27 L417.3,374.59 L418.3,374.91 L419.3,375.23 L420.3,375.56 L421.3,375.89 L422.3,376.22 L423.3,376.56 L424.3,376.9 L425.3,377.24 L426.3,377.58 L427.3,377.93 L428.3,378.29 L429.3,378.64 L430.3,379 L431.3,379.37 L432.3,379.73 L433.3,380.1 L434.3,380.48 L435.3,380.86 L436.3,381.24 L437.3,381.62 L438.3,382.01 L439.3,382.41 L440.3,382.81 L441.3,383.21 L442.3,383.62 L443.3,384.03 L444.3,384.44 L445.3,384.86 L446.3,385.29 L447.3,385.72 L448.3,386.15 L449.3,386.59 L450.3,387.03 L451.3,387.48 L452.3,387.93 L453.3,388.39 L454.3,388.85 L455.3,389.32 L456.3,389.79 L457.3,390.27 L458.3,390.75 L459.3,391.23 L460.3,391.73 L461.3,392.22 L462.3,392.73 L463.3,393.23 L464.3,393.75 L465.3,394.26 L466.3,394.79 L467.3,395.31 L468.3,395.85 L469.3,396.39 L470.3,396.93 L471.3,397.48 L472.3,398.04 L473.3,398.6 L474.3,399.16 L475.3,399.74 L476.3,400.31 L477.3,400.9 L478.3,401.48 L479.3,402.08 L480.3,402.68 L481.3,403.29 L482.3,403.9 L482.7,404.2" stroke-width="1.5" stroke-dasharray="4 2.2"/>
<line x1="55.6" y1="384.6" x2="84.6" y2="384.6" stroke-width="1.2"/>
<line x1="63.64" y1="384.6" x2="84.6" y2="384.6" stroke-width="1.1"/>
<path d="M59,384.6 L64.8,382.3 L64.8,386.9 Z" fill="#000" stroke="none"/>
<g transform="rotate(0.14 302 678)">
<line x1="54.6" y1="491.1" x2="556.1" y2="491.1" stroke-width="1" stroke="#3a3a3a"/>
<line x1="53.6" y1="866.2" x2="555.1" y2="866.2" stroke-width="1" stroke="#3a3a3a"/>
<line x1="54.6" y1="491.1" x2="54.6" y2="866.2" stroke-width="1" stroke="#3a3a3a"/>
<line x1="550.6" y1="490.6" x2="550.6" y2="866.2" stroke-width="1" stroke="#3a3a3a"/>
<line x1="49.1" y1="866.01" x2="54.6" y2="866.01" stroke-width="0.9"/>
<line x1="550.6" y1="866.01" x2="555.2" y2="866.01" stroke-width="0.9"/>
<line x1="52" y1="860.65" x2="54.6" y2="860.65" stroke-width="0.9"/>
<line x1="550.6" y1="860.65" x2="552.7" y2="860.65" stroke-width="0.9"/>
<line x1="52" y1="855.29" x2="54.6" y2="855.29" stroke-width="0.9"/>
<line x1="550.6" y1="855.29" x2="552.7" y2="855.29" stroke-width="0.9"/>
<line x1="52" y1="849.94" x2="54.6" y2="849.94" stroke-width="0.9"/>
<line x1="550.6" y1="849.94" x2="552.7" y2="849.94" stroke-width="0.9"/>
<line x1="52" y1="844.58" x2="54.6" y2="844.58" stroke-width="0.9"/>
<line x1="550.6" y1="844.58" x2="552.7" y2="844.58" stroke-width="0.9"/>
<line x1="52" y1="839.23" x2="54.6" y2="839.23" stroke-width="0.9"/>
<line x1="550.6" y1="839.23" x2="552.7" y2="839.23" stroke-width="0.9"/>
<line x1="52" y1="833.87" x2="54.6" y2="833.87" stroke-width="0.9"/>
<line x1="550.6" y1="833.87" x2="552.7" y2="833.87" stroke-width="0.9"/>
<line x1="52" y1="828.52" x2="54.6" y2="828.52" stroke-width="0.9"/>
<line x1="550.6" y1="828.52" x2="552.7" y2="828.52" stroke-width="0.9"/>
<line x1="52" y1="823.16" x2="54.6" y2="823.16" stroke-width="0.9"/>
<line x1="550.6" y1="823.16" x2="552.7" y2="823.16" stroke-width="0.9"/>
<line x1="52" y1="817.8" x2="54.6" y2="817.8" stroke-width="0.9"/>
<line x1="550.6" y1="817.8" x2="552.7" y2="817.8" stroke-width="0.9"/>
<line x1="49.1" y1="812.45" x2="54.6" y2="812.45" stroke-width="0.9"/>
<line x1="550.6" y1="812.45" x2="555.2" y2="812.45" stroke-width="0.9"/>
<line x1="52" y1="807.09" x2="54.6" y2="807.09" stroke-width="0.9"/>
<line x1="550.6" y1="807.09" x2="552.7" y2="807.09" stroke-width="0.9"/>
<line x1="52" y1="801.74" x2="54.6" y2="801.74" stroke-width="0.9"/>
<line x1="550.6" y1="801.74" x2="552.7" y2="801.74" stroke-width="0.9"/>
<line x1="52" y1="796.38" x2="54.6" y2="796.38" stroke-width="0.9"/>
<line x1="550.6" y1="796.38" x2="552.7" y2="796.38" stroke-width="0.9"/>
<line x1="52" y1="791.02" x2="54.6" y2="791.02" stroke-width="0.9"/>
<line x1="550.6" y1="791.02" x2="552.7" y2="791.02" stroke-width="0.9"/>
<line x1="52" y1="785.67" x2="54.6" y2="785.67" stroke-width="0.9"/>
<line x1="550.6" y1="785.67" x2="552.7" y2="785.67" stroke-width="0.9"/>
<line x1="52" y1="780.31" x2="54.6" y2="780.31" stroke-width="0.9"/>
<line x1="550.6" y1="780.31" x2="552.7" y2="780.31" stroke-width="0.9"/>
<line x1="52" y1="774.96" x2="54.6" y2="774.96" stroke-width="0.9"/>
<line x1="550.6" y1="774.96" x2="552.7" y2="774.96" stroke-width="0.9"/>
<line x1="52" y1="769.6" x2="54.6" y2="769.6" stroke-width="0.9"/>
<line x1="550.6" y1="769.6" x2="552.7" y2="769.6" stroke-width="0.9"/>
<line x1="52" y1="764.25" x2="54.6" y2="764.25" stroke-width="0.9"/>
<line x1="550.6" y1="764.25" x2="552.7" y2="764.25" stroke-width="0.9"/>
<line x1="49.1" y1="758.89" x2="54.6" y2="758.89" stroke-width="0.9"/>
<line x1="550.6" y1="758.89" x2="555.2" y2="758.89" stroke-width="0.9"/>
<line x1="52" y1="753.53" x2="54.6" y2="753.53" stroke-width="0.9"/>
<line x1="550.6" y1="753.53" x2="552.7" y2="753.53" stroke-width="0.9"/>
<line x1="52" y1="748.18" x2="54.6" y2="748.18" stroke-width="0.9"/>
<line x1="550.6" y1="748.18" x2="552.7" y2="748.18" stroke-width="0.9"/>
<line x1="52" y1="742.82" x2="54.6" y2="742.82" stroke-width="0.9"/>
<line x1="550.6" y1="742.82" x2="552.7" y2="742.82" stroke-width="0.9"/>
<line x1="52" y1="737.47" x2="54.6" y2="737.47" stroke-width="0.9"/>
<line x1="550.6" y1="737.47" x2="552.7" y2="737.47" stroke-width="0.9"/>
<line x1="52" y1="732.11" x2="54.6" y2="732.11" stroke-width="0.9"/>
<line x1="550.6" y1="732.11" x2="552.7" y2="732.11" stroke-width="0.9"/>
<line x1="52" y1="726.76" x2="54.6" y2="726.76" stroke-width="0.9"/>
<line x1="550.6" y1="726.76" x2="552.7" y2="726.76" stroke-width="0.9"/>
<line x1="52" y1="721.4" x2="54.6" y2="721.4" stroke-width="0.9"/>
<line x1="550.6" y1="721.4" x2="552.7" y2="721.4" stroke-width="0.9"/>
<line x1="52" y1="716.04" x2="54.6" y2="716.04" stroke-width="0.9"/>
<line x1="550.6" y1="716.04" x2="552.7" y2="716.04" stroke-width="0.9"/>
<line x1="52" y1="710.69" x2="54.6" y2="710.69" stroke-width="0.9"/>
<line x1="550.6" y1="710.69" x2="552.7" y2="710.69" stroke-width="0.9"/>
<line x1="49.1" y1="705.33" x2="54.6" y2="705.33" stroke-width="0.9"/>
<line x1="550.6" y1="705.33" x2="555.2" y2="705.33" stroke-width="0.9"/>
<line x1="52" y1="699.98" x2="54.6" y2="699.98" stroke-width="0.9"/>
<line x1="550.6" y1="699.98" x2="552.7" y2="699.98" stroke-width="0.9"/>
<line x1="52" y1="694.62" x2="54.6" y2="694.62" stroke-width="0.9"/>
<line x1="550.6" y1="694.62" x2="552.7" y2="694.62" stroke-width="0.9"/>
<line x1="52" y1="689.26" x2="54.6" y2="689.26" stroke-width="0.9"/>
<line x1="550.6" y1="689.26" x2="552.7" y2="689.26" stroke-width="0.9"/>
<line x1="52" y1="683.91" x2="54.6" y2="683.91" stroke-width="0.9"/>
<line x1="550.6" y1="683.91" x2="552.7" y2="683.91" stroke-width="0.9"/>
<line x1="52" y1="678.55" x2="54.6" y2="678.55" stroke-width="0.9"/>
<line x1="550.6" y1="678.55" x2="552.7" y2="678.55" stroke-width="0.9"/>
<line x1="52" y1="673.2" x2="54.6" y2="673.2" stroke-width="0.9"/>
<line x1="550.6" y1="673.2" x2="552.7" y2="673.2" stroke-width="0.9"/>
<line x1="52" y1="667.84" x2="54.6" y2="667.84" stroke-width="0.9"/>
<line x1="550.6" y1="667.84" x2="552.7" y2="667.84" stroke-width="0.9"/>
<line x1="52" y1="662.49" x2="54.6" y2="662.49" stroke-width="0.9"/>
<line x1="550.6" y1="662.49" x2="552.7" y2="662.49" stroke-width="0.9"/>
<line x1="52" y1="657.13" x2="54.6" y2="657.13" stroke-width="0.9"/>
<line x1="550.6" y1="657.13" x2="552.7" y2="657.13" stroke-width="0.9"/>
<line x1="49.1" y1="651.77" x2="54.6" y2="651.77" stroke-width="0.9"/>
<line x1="550.6" y1="651.77" x2="555.2" y2="651.77" stroke-width="0.9"/>
<line x1="52" y1="646.42" x2="54.6" y2="646.42" stroke-width="0.9"/>
<line x1="550.6" y1="646.42" x2="552.7" y2="646.42" stroke-width="0.9"/>
<line x1="52" y1="641.06" x2="54.6" y2="641.06" stroke-width="0.9"/>
<line x1="550.6" y1="641.06" x2="552.7" y2="641.06" stroke-width="0.9"/>
<line x1="52" y1="635.71" x2="54.6" y2="635.71" stroke-width="0.9"/>
<line x1="550.6" y1="635.71" x2="552.7" y2="635.71" stroke-width="0.9"/>
<line x1="52" y1="630.35" x2="54.6" y2="630.35" stroke-width="0.9"/>
<line x1="550.6" y1="630.35" x2="552.7" y2="630.35" stroke-width="0.9"/>
<line x1="52" y1="625" x2="54.6" y2="625" stroke-width="0.9"/>
<line x1="550.6" y1="625" x2="552.7" y2="625" stroke-width="0.9"/>
<line x1="52" y1="619.64" x2="54.6" y2="619.64" stroke-width="0.9"/>
<line x1="550.6" y1="619.64" x2="552.7" y2="619.64" stroke-width="0.9"/>
<line x1="52" y1="614.28" x2="54.6" y2="614.28" stroke-width="0.9"/>
<line x1="550.6" y1="614.28" x2="552.7" y2="614.28" stroke-width="0.9"/>
<line x1="52" y1="608.93" x2="54.6" y2="608.93" stroke-width="0.9"/>
<line x1="550.6" y1="608.93" x2="552.7" y2="608.93" stroke-width="0.9"/>
<line x1="52" y1="603.57" x2="54.6" y2="603.57" stroke-width="0.9"/>
<line x1="550.6" y1="603.57" x2="552.7" y2="603.57" stroke-width="0.9"/>
<line x1="49.1" y1="598.22" x2="54.6" y2="598.22" stroke-width="0.9"/>
<line x1="550.6" y1="598.22" x2="555.2" y2="598.22" stroke-width="0.9"/>
<line x1="52" y1="592.86" x2="54.6" y2="592.86" stroke-width="0.9"/>
<line x1="550.6" y1="592.86" x2="552.7" y2="592.86" stroke-width="0.9"/>
<line x1="52" y1="587.5" x2="54.6" y2="587.5" stroke-width="0.9"/>
<line x1="550.6" y1="587.5" x2="552.7" y2="587.5" stroke-width="0.9"/>
<line x1="52" y1="582.15" x2="54.6" y2="582.15" stroke-width="0.9"/>
<line x1="550.6" y1="582.15" x2="552.7" y2="582.15" stroke-width="0.9"/>
<line x1="52" y1="576.79" x2="54.6" y2="576.79" stroke-width="0.9"/>
<line x1="550.6" y1="576.79" x2="552.7" y2="576.79" stroke-width="0.9"/>
<line x1="52" y1="571.44" x2="54.6" y2="571.44" stroke-width="0.9"/>
<line x1="550.6" y1="571.44" x2="552.7" y2="571.44" stroke-width="0.9"/>
<line x1="52" y1="566.08" x2="54.6" y2="566.08" stroke-width="0.9"/>
<line x1="550.6" y1="566.08" x2="552.7" y2="566.08" stroke-width="0.9"/>
<line x1="52" y1="560.73" x2="54.6" y2="560.73" stroke-width="0.9"/>
<line x1="550.6" y1="560.73" x2="552.7" y2="560.73" stroke-width="0.9"/>
<line x1="52" y1="555.37" x2="54.6" y2="555.37" stroke-width="0.9"/>
<line x1="550.6" y1="555.37" x2="552.7" y2="555.37" stroke-width="0.9"/>
<line x1="52" y1="550.01" x2="54.6" y2="550.01" stroke-width="0.9"/>
<line x1="550.6" y1="550.01" x2="552.7" y2="550.01" stroke-width="0.9"/>
<line x1="49.1" y1="544.66" x2="54.6" y2="544.66" stroke-width="0.9"/>
<line x1="550.6" y1="544.66" x2="555.2" y2="544.66" stroke-width="0.9"/>
<line x1="52" y1="539.3" x2="54.6" y2="539.3" stroke-width="0.9"/>
<line x1="550.6" y1="539.3" x2="552.7" y2="539.3" stroke-width="0.9"/>
<line x1="52" y1="533.95" x2="54.6" y2="533.95" stroke-width="0.9"/>
<line x1="550.6" y1="533.95" x2="552.7" y2="533.95" stroke-width="0.9"/>
<line x1="52" y1="528.59" x2="54.6" y2="528.59" stroke-width="0.9"/>
<line x1="550.6" y1="528.59" x2="552.7" y2="528.59" stroke-width="0.9"/>
<line x1="52" y1="523.23" x2="54.6" y2="523.23" stroke-width="0.9"/>
<line x1="550.6" y1="523.23" x2="552.7" y2="523.23" stroke-width="0.9"/>
<line x1="52" y1="517.88" x2="54.6" y2="517.88" stroke-width="0.9"/>
<line x1="550.6" y1="517.88" x2="552.7" y2="517.88" stroke-width="0.9"/>
<line x1="52" y1="512.52" x2="54.6" y2="512.52" stroke-width="0.9"/>
<line x1="550.6" y1="512.52" x2="552.7" y2="512.52" stroke-width="0.9"/>
<line x1="52" y1="507.17" x2="54.6" y2="507.17" stroke-width="0.9"/>
<line x1="550.6" y1="507.17" x2="552.7" y2="507.17" stroke-width="0.9"/>
<line x1="52" y1="501.81" x2="54.6" y2="501.81" stroke-width="0.9"/>
<line x1="550.6" y1="501.81" x2="552.7" y2="501.81" stroke-width="0.9"/>
<line x1="52" y1="496.46" x2="54.6" y2="496.46" stroke-width="0.9"/>
<line x1="550.6" y1="496.46" x2="552.7" y2="496.46" stroke-width="0.9"/>
<line x1="49.1" y1="491.1" x2="54.6" y2="491.1" stroke-width="0.9"/>
<line x1="550.6" y1="491.1" x2="555.2" y2="491.1" stroke-width="0.9"/>
<line x1="54.6" y1="866.2" x2="54.6" y2="870.7" stroke-width="0.9"/>
<line x1="54.6" y1="491.1" x2="54.6" y2="495.6" stroke-width="0.9"/>
<line x1="59.55" y1="866.2" x2="59.55" y2="868" stroke-width="0.9"/>
<line x1="59.55" y1="491.1" x2="59.55" y2="492.7" stroke-width="0.9"/>
<line x1="64.5" y1="866.2" x2="64.5" y2="868" stroke-width="0.9"/>
<line x1="64.5" y1="491.1" x2="64.5" y2="492.7" stroke-width="0.9"/>
<line x1="69.45" y1="866.2" x2="69.45" y2="868" stroke-width="0.9"/>
<line x1="69.45" y1="491.1" x2="69.45" y2="492.7" stroke-width="0.9"/>
<line x1="74.4" y1="866.2" x2="74.4" y2="868" stroke-width="0.9"/>
<line x1="74.4" y1="491.1" x2="74.4" y2="492.7" stroke-width="0.9"/>
<line x1="79.35" y1="866.2" x2="79.35" y2="868" stroke-width="0.9"/>
<line x1="79.35" y1="491.1" x2="79.35" y2="492.7" stroke-width="0.9"/>
<line x1="84.3" y1="866.2" x2="84.3" y2="868" stroke-width="0.9"/>
<line x1="84.3" y1="491.1" x2="84.3" y2="492.7" stroke-width="0.9"/>
<line x1="89.25" y1="866.2" x2="89.25" y2="868" stroke-width="0.9"/>
<line x1="89.25" y1="491.1" x2="89.25" y2="492.7" stroke-width="0.9"/>
<line x1="94.2" y1="866.2" x2="94.2" y2="868" stroke-width="0.9"/>
<line x1="94.2" y1="491.1" x2="94.2" y2="492.7" stroke-width="0.9"/>
<line x1="99.15" y1="866.2" x2="99.15" y2="868" stroke-width="0.9"/>
<line x1="99.15" y1="491.1" x2="99.15" y2="492.7" stroke-width="0.9"/>
<line x1="104.1" y1="866.2" x2="104.1" y2="870.7" stroke-width="0.9"/>
<line x1="104.1" y1="491.1" x2="104.1" y2="495.6" stroke-width="0.9"/>
<line x1="109.05" y1="866.2" x2="109.05" y2="868" stroke-width="0.9"/>
<line x1="109.05" y1="491.1" x2="109.05" y2="492.7" stroke-width="0.9"/>
<line x1="114" y1="866.2" x2="114" y2="868" stroke-width="0.9"/>
<line x1="114" y1="491.1" x2="114" y2="492.7" stroke-width="0.9"/>
<line x1="118.95" y1="866.2" x2="118.95" y2="868" stroke-width="0.9"/>
<line x1="118.95" y1="491.1" x2="118.95" y2="492.7" stroke-width="0.9"/>
<line x1="123.9" y1="866.2" x2="123.9" y2="868" stroke-width="0.9"/>
<line x1="123.9" y1="491.1" x2="123.9" y2="492.7" stroke-width="0.9"/>
<line x1="128.85" y1="866.2" x2="128.85" y2="868" stroke-width="0.9"/>
<line x1="128.85" y1="491.1" x2="128.85" y2="492.7" stroke-width="0.9"/>
<line x1="133.8" y1="866.2" x2="133.8" y2="868" stroke-width="0.9"/>
<line x1="133.8" y1="491.1" x2="133.8" y2="492.7" stroke-width="0.9"/>
<line x1="138.75" y1="866.2" x2="138.75" y2="868" stroke-width="0.9"/>
<line x1="138.75" y1="491.1" x2="138.75" y2="492.7" stroke-width="0.9"/>
<line x1="143.7" y1="866.2" x2="143.7" y2="868" stroke-width="0.9"/>
<line x1="143.7" y1="491.1" x2="143.7" y2="492.7" stroke-width="0.9"/>
<line x1="148.65" y1="866.2" x2="148.65" y2="868" stroke-width="0.9"/>
<line x1="148.65" y1="491.1" x2="148.65" y2="492.7" stroke-width="0.9"/>
<line x1="153.6" y1="866.2" x2="153.6" y2="870.7" stroke-width="0.9"/>
<line x1="153.6" y1="491.1" x2="153.6" y2="495.6" stroke-width="0.9"/>
<line x1="158.55" y1="866.2" x2="158.55" y2="868" stroke-width="0.9"/>
<line x1="158.55" y1="491.1" x2="158.55" y2="492.7" stroke-width="0.9"/>
<line x1="163.5" y1="866.2" x2="163.5" y2="868" stroke-width="0.9"/>
<line x1="163.5" y1="491.1" x2="163.5" y2="492.7" stroke-width="0.9"/>
<line x1="168.45" y1="866.2" x2="168.45" y2="868" stroke-width="0.9"/>
<line x1="168.45" y1="491.1" x2="168.45" y2="492.7" stroke-width="0.9"/>
<line x1="173.4" y1="866.2" x2="173.4" y2="868" stroke-width="0.9"/>
<line x1="173.4" y1="491.1" x2="173.4" y2="492.7" stroke-width="0.9"/>
<line x1="178.35" y1="866.2" x2="178.35" y2="868" stroke-width="0.9"/>
<line x1="178.35" y1="491.1" x2="178.35" y2="492.7" stroke-width="0.9"/>
<line x1="183.3" y1="866.2" x2="183.3" y2="868" stroke-width="0.9"/>
<line x1="183.3" y1="491.1" x2="183.3" y2="492.7" stroke-width="0.9"/>
<line x1="188.25" y1="866.2" x2="188.25" y2="868" stroke-width="0.9"/>
<line x1="188.25" y1="491.1" x2="188.25" y2="492.7" stroke-width="0.9"/>
<line x1="193.2" y1="866.2" x2="193.2" y2="868" stroke-width="0.9"/>
<line x1="193.2" y1="491.1" x2="193.2" y2="492.7" stroke-width="0.9"/>
<line x1="198.15" y1="866.2" x2="198.15" y2="868" stroke-width="0.9"/>
<line x1="198.15" y1="491.1" x2="198.15" y2="492.7" stroke-width="0.9"/>
<line x1="203.1" y1="866.2" x2="203.1" y2="870.7" stroke-width="0.9"/>
<line x1="203.1" y1="491.1" x2="203.1" y2="495.6" stroke-width="0.9"/>
<line x1="208.05" y1="866.2" x2="208.05" y2="868" stroke-width="0.9"/>
<line x1="208.05" y1="491.1" x2="208.05" y2="492.7" stroke-width="0.9"/>
<line x1="213" y1="866.2" x2="213" y2="868" stroke-width="0.9"/>
<line x1="213" y1="491.1" x2="213" y2="492.7" stroke-width="0.9"/>
<line x1="217.95" y1="866.2" x2="217.95" y2="868" stroke-width="0.9"/>
<line x1="217.95" y1="491.1" x2="217.95" y2="492.7" stroke-width="0.9"/>
<line x1="222.9" y1="866.2" x2="222.9" y2="868" stroke-width="0.9"/>
<line x1="222.9" y1="491.1" x2="222.9" y2="492.7" stroke-width="0.9"/>
<line x1="227.85" y1="866.2" x2="227.85" y2="868" stroke-width="0.9"/>
<line x1="227.85" y1="491.1" x2="227.85" y2="492.7" stroke-width="0.9"/>
<line x1="232.8" y1="866.2" x2="232.8" y2="868" stroke-width="0.9"/>
<line x1="232.8" y1="491.1" x2="232.8" y2="492.7" stroke-width="0.9"/>
<line x1="237.75" y1="866.2" x2="237.75" y2="868" stroke-width="0.9"/>
<line x1="237.75" y1="491.1" x2="237.75" y2="492.7" stroke-width="0.9"/>
<line x1="242.7" y1="866.2" x2="242.7" y2="868" stroke-width="0.9"/>
<line x1="242.7" y1="491.1" x2="242.7" y2="492.7" stroke-width="0.9"/>
<line x1="247.65" y1="866.2" x2="247.65" y2="868" stroke-width="0.9"/>
<line x1="247.65" y1="491.1" x2="247.65" y2="492.7" stroke-width="0.9"/>
<line x1="252.6" y1="866.2" x2="252.6" y2="870.7" stroke-width="0.9"/>
<line x1="252.6" y1="491.1" x2="252.6" y2="495.6" stroke-width="0.9"/>
<line x1="257.55" y1="866.2" x2="257.55" y2="868" stroke-width="0.9"/>
<line x1="257.55" y1="491.1" x2="257.55" y2="492.7" stroke-width="0.9"/>
<line x1="262.5" y1="866.2" x2="262.5" y2="868" stroke-width="0.9"/>
<line x1="262.5" y1="491.1" x2="262.5" y2="492.7" stroke-width="0.9"/>
<line x1="267.45" y1="866.2" x2="267.45" y2="868" stroke-width="0.9"/>
<line x1="267.45" y1="491.1" x2="267.45" y2="492.7" stroke-width="0.9"/>
<line x1="272.4" y1="866.2" x2="272.4" y2="868" stroke-width="0.9"/>
<line x1="272.4" y1="491.1" x2="272.4" y2="492.7" stroke-width="0.9"/>
<line x1="277.35" y1="866.2" x2="277.35" y2="868" stroke-width="0.9"/>
<line x1="277.35" y1="491.1" x2="277.35" y2="492.7" stroke-width="0.9"/>
<line x1="282.3" y1="866.2" x2="282.3" y2="868" stroke-width="0.9"/>
<line x1="282.3" y1="491.1" x2="282.3" y2="492.7" stroke-width="0.9"/>
<line x1="287.25" y1="866.2" x2="287.25" y2="868" stroke-width="0.9"/>
<line x1="287.25" y1="491.1" x2="287.25" y2="492.7" stroke-width="0.9"/>
<line x1="292.2" y1="866.2" x2="292.2" y2="868" stroke-width="0.9"/>
<line x1="292.2" y1="491.1" x2="292.2" y2="492.7" stroke-width="0.9"/>
<line x1="297.15" y1="866.2" x2="297.15" y2="868" stroke-width="0.9"/>
<line x1="297.15" y1="491.1" x2="297.15" y2="492.7" stroke-width="0.9"/>
<line x1="302.1" y1="866.2" x2="302.1" y2="870.7" stroke-width="0.9"/>
<line x1="302.1" y1="491.1" x2="302.1" y2="495.6" stroke-width="0.9"/>
<line x1="307.05" y1="866.2" x2="307.05" y2="868" stroke-width="0.9"/>
<line x1="307.05" y1="491.1" x2="307.05" y2="492.7" stroke-width="0.9"/>
<line x1="312" y1="866.2" x2="312" y2="868" stroke-width="0.9"/>
<line x1="312" y1="491.1" x2="312" y2="492.7" stroke-width="0.9"/>
<line x1="316.95" y1="866.2" x2="316.95" y2="868" stroke-width="0.9"/>
<line x1="316.95" y1="491.1" x2="316.95" y2="492.7" stroke-width="0.9"/>
<line x1="321.9" y1="866.2" x2="321.9" y2="868" stroke-width="0.9"/>
<line x1="321.9" y1="491.1" x2="321.9" y2="492.7" stroke-width="0.9"/>
<line x1="326.85" y1="866.2" x2="326.85" y2="868" stroke-width="0.9"/>
<line x1="326.85" y1="491.1" x2="326.85" y2="492.7" stroke-width="0.9"/>
<line x1="331.8" y1="866.2" x2="331.8" y2="868" stroke-width="0.9"/>
<line x1="331.8" y1="491.1" x2="331.8" y2="492.7" stroke-width="0.9"/>
<line x1="336.75" y1="866.2" x2="336.75" y2="868" stroke-width="0.9"/>
<line x1="336.75" y1="491.1" x2="336.75" y2="492.7" stroke-width="0.9"/>
<line x1="341.7" y1="866.2" x2="341.7" y2="868" stroke-width="0.9"/>
<line x1="341.7" y1="491.1" x2="341.7" y2="492.7" stroke-width="0.9"/>
<line x1="346.65" y1="866.2" x2="346.65" y2="868" stroke-width="0.9"/>
<line x1="346.65" y1="491.1" x2="346.65" y2="492.7" stroke-width="0.9"/>
<line x1="351.6" y1="866.2" x2="351.6" y2="870.7" stroke-width="0.9"/>
<line x1="351.6" y1="491.1" x2="351.6" y2="495.6" stroke-width="0.9"/>
<line x1="356.55" y1="866.2" x2="356.55" y2="868" stroke-width="0.9"/>
<line x1="356.55" y1="491.1" x2="356.55" y2="492.7" stroke-width="0.9"/>
<line x1="361.5" y1="866.2" x2="361.5" y2="868" stroke-width="0.9"/>
<line x1="361.5" y1="491.1" x2="361.5" y2="492.7" stroke-width="0.9"/>
<line x1="366.45" y1="866.2" x2="366.45" y2="868" stroke-width="0.9"/>
<line x1="366.45" y1="491.1" x2="366.45" y2="492.7" stroke-width="0.9"/>
<line x1="371.4" y1="866.2" x2="371.4" y2="868" stroke-width="0.9"/>
<line x1="371.4" y1="491.1" x2="371.4" y2="492.7" stroke-width="0.9"/>
<line x1="376.35" y1="866.2" x2="376.35" y2="868" stroke-width="0.9"/>
<line x1="376.35" y1="491.1" x2="376.35" y2="492.7" stroke-width="0.9"/>
<line x1="381.3" y1="866.2" x2="381.3" y2="868" stroke-width="0.9"/>
<line x1="381.3" y1="491.1" x2="381.3" y2="492.7" stroke-width="0.9"/>
<line x1="386.25" y1="866.2" x2="386.25" y2="868" stroke-width="0.9"/>
<line x1="386.25" y1="491.1" x2="386.25" y2="492.7" stroke-width="0.9"/>
<line x1="391.2" y1="866.2" x2="391.2" y2="868" stroke-width="0.9"/>
<line x1="391.2" y1="491.1" x2="391.2" y2="492.7" stroke-width="0.9"/>
<line x1="396.15" y1="866.2" x2="396.15" y2="868" stroke-width="0.9"/>
<line x1="396.15" y1="491.1" x2="396.15" y2="492.7" stroke-width="0.9"/>
<line x1="401.1" y1="866.2" x2="401.1" y2="870.7" stroke-width="0.9"/>
<line x1="401.1" y1="491.1" x2="401.1" y2="495.6" stroke-width="0.9"/>
<line x1="406.05" y1="866.2" x2="406.05" y2="868" stroke-width="0.9"/>
<line x1="406.05" y1="491.1" x2="406.05" y2="492.7" stroke-width="0.9"/>
<line x1="411" y1="866.2" x2="411" y2="868" stroke-width="0.9"/>
<line x1="411" y1="491.1" x2="411" y2="492.7" stroke-width="0.9"/>
<line x1="415.95" y1="866.2" x2="415.95" y2="868" stroke-width="0.9"/>
<line x1="415.95" y1="491.1" x2="415.95" y2="492.7" stroke-width="0.9"/>
<line x1="420.9" y1="866.2" x2="420.9" y2="868" stroke-width="0.9"/>
<line x1="420.9" y1="491.1" x2="420.9" y2="492.7" stroke-width="0.9"/>
<line x1="425.85" y1="866.2" x2="425.85" y2="868" stroke-width="0.9"/>
<line x1="425.85" y1="491.1" x2="425.85" y2="492.7" stroke-width="0.9"/>
<line x1="430.8" y1="866.2" x2="430.8" y2="868" stroke-width="0.9"/>
<line x1="430.8" y1="491.1" x2="430.8" y2="492.7" stroke-width="0.9"/>
<line x1="435.75" y1="866.2" x2="435.75" y2="868" stroke-width="0.9"/>
<line x1="435.75" y1="491.1" x2="435.75" y2="492.7" stroke-width="0.9"/>
<line x1="440.7" y1="866.2" x2="440.7" y2="868" stroke-width="0.9"/>
<line x1="440.7" y1="491.1" x2="440.7" y2="492.7" stroke-width="0.9"/>
<line x1="445.65" y1="866.2" x2="445.65" y2="868" stroke-width="0.9"/>
<line x1="445.65" y1="491.1" x2="445.65" y2="492.7" stroke-width="0.9"/>
<line x1="450.6" y1="866.2" x2="450.6" y2="870.7" stroke-width="0.9"/>
<line x1="450.6" y1="491.1" x2="450.6" y2="495.6" stroke-width="0.9"/>
<line x1="455.55" y1="866.2" x2="455.55" y2="868" stroke-width="0.9"/>
<line x1="455.55" y1="491.1" x2="455.55" y2="492.7" stroke-width="0.9"/>
<line x1="460.5" y1="866.2" x2="460.5" y2="868" stroke-width="0.9"/>
<line x1="460.5" y1="491.1" x2="460.5" y2="492.7" stroke-width="0.9"/>
<line x1="465.45" y1="866.2" x2="465.45" y2="868" stroke-width="0.9"/>
<line x1="465.45" y1="491.1" x2="465.45" y2="492.7" stroke-width="0.9"/>
<line x1="470.4" y1="866.2" x2="470.4" y2="868" stroke-width="0.9"/>
<line x1="470.4" y1="491.1" x2="470.4" y2="492.7" stroke-width="0.9"/>
<line x1="475.35" y1="866.2" x2="475.35" y2="868" stroke-width="0.9"/>
<line x1="475.35" y1="491.1" x2="475.35" y2="492.7" stroke-width="0.9"/>
<line x1="480.3" y1="866.2" x2="480.3" y2="868" stroke-width="0.9"/>
<line x1="480.3" y1="491.1" x2="480.3" y2="492.7" stroke-width="0.9"/>
<line x1="485.25" y1="866.2" x2="485.25" y2="868" stroke-width="0.9"/>
<line x1="485.25" y1="491.1" x2="485.25" y2="492.7" stroke-width="0.9"/>
<line x1="490.2" y1="866.2" x2="490.2" y2="868" stroke-width="0.9"/>
<line x1="490.2" y1="491.1" x2="490.2" y2="492.7" stroke-width="0.9"/>
<line x1="495.15" y1="866.2" x2="495.15" y2="868" stroke-width="0.9"/>
<line x1="495.15" y1="491.1" x2="495.15" y2="492.7" stroke-width="0.9"/>
<line x1="500.1" y1="866.2" x2="500.1" y2="870.7" stroke-width="0.9"/>
<line x1="500.1" y1="491.1" x2="500.1" y2="495.6" stroke-width="0.9"/>
<line x1="505.05" y1="866.2" x2="505.05" y2="868" stroke-width="0.9"/>
<line x1="505.05" y1="491.1" x2="505.05" y2="492.7" stroke-width="0.9"/>
<line x1="510" y1="866.2" x2="510" y2="868" stroke-width="0.9"/>
<line x1="510" y1="491.1" x2="510" y2="492.7" stroke-width="0.9"/>
<line x1="514.95" y1="866.2" x2="514.95" y2="868" stroke-width="0.9"/>
<line x1="514.95" y1="491.1" x2="514.95" y2="492.7" stroke-width="0.9"/>
<line x1="519.9" y1="866.2" x2="519.9" y2="868" stroke-width="0.9"/>
<line x1="519.9" y1="491.1" x2="519.9" y2="492.7" stroke-width="0.9"/>
<line x1="524.85" y1="866.2" x2="524.85" y2="868" stroke-width="0.9"/>
<line x1="524.85" y1="491.1" x2="524.85" y2="492.7" stroke-width="0.9"/>
<line x1="529.8" y1="866.2" x2="529.8" y2="868" stroke-width="0.9"/>
<line x1="529.8" y1="491.1" x2="529.8" y2="492.7" stroke-width="0.9"/>
<line x1="534.75" y1="866.2" x2="534.75" y2="868" stroke-width="0.9"/>
<line x1="534.75" y1="491.1" x2="534.75" y2="492.7" stroke-width="0.9"/>
<line x1="539.7" y1="866.2" x2="539.7" y2="868" stroke-width="0.9"/>
<line x1="539.7" y1="491.1" x2="539.7" y2="492.7" stroke-width="0.9"/>
<line x1="544.65" y1="866.2" x2="544.65" y2="868" stroke-width="0.9"/>
<line x1="544.65" y1="491.1" x2="544.65" y2="492.7" stroke-width="0.9"/>
<line x1="549.6" y1="866.2" x2="549.6" y2="870.7" stroke-width="0.9"/>
<line x1="549.6" y1="491.1" x2="549.6" y2="495.6" stroke-width="0.9"/>
<line x1="54.6" y1="486.1" x2="54.6" y2="491.1" stroke-width="0.9"/>
<line x1="100.53" y1="486.1" x2="100.53" y2="491.1" stroke-width="0.9"/>
<line x1="147.21" y1="486.1" x2="147.21" y2="491.1" stroke-width="0.9"/>
<line x1="194.64" y1="486.1" x2="194.64" y2="491.1" stroke-width="0.9"/>
<line x1="242.86" y1="486.1" x2="242.86" y2="491.1" stroke-width="0.9"/>
<line x1="291.87" y1="486.1" x2="291.87" y2="491.1" stroke-width="0.9"/>
<line x1="341.69" y1="486.1" x2="341.69" y2="491.1" stroke-width="0.9"/>
<line x1="392.36" y1="486.1" x2="392.36" y2="491.1" stroke-width="0.9"/>
<line x1="443.88" y1="486.1" x2="443.88" y2="491.1" stroke-width="0.9"/>
<line x1="496.29" y1="486.1" x2="496.29" y2="491.1" stroke-width="0.9"/>
<line x1="549.6" y1="486.1" x2="549.6" y2="491.1" stroke-width="0.9"/>
</g>
<path d="M55.2,579.5 L57.2,580.71 L59.2,581.63 L61.2,582.55 L63.2,583.47 L65.2,584.38 L67.2,585.3 L69.2,586.21 L71.2,587.12 L73.2,588.03 L75.2,588.94 L77.2,589.85 L79.2,590.75 L81.2,591.65 L83.2,592.55 L85.2,593.45 L87.2,594.34 L89.2,595.23 L91.2,596.12 L93.2,597.01 L95.2,597.89 L97.2,598.77 L99.2,599.64 L101.2,600.52 L103.2,601.38 L105.2,602.25 L107.2,603.11 L109.2,603.97 L111.2,604.82 L113.2,605.67 L115.2,606.52 L117.2,607.36 L119.2,608.19 L121.2,609.03 L123.2,609.85 L125.2,610.68 L127.2,611.49 L129.2,612.31 L131.2,613.12 L133.2,613.92 L135.2,614.72 L137.2,615.51 L139.2,616.29 L141.2,617.07 L143.2,617.85 L145.2,618.62 L147.2,619.38 L149.2,620.14 L151.2,620.89 L153.2,621.63 L155.2,622.37 L157.2,623.1 L159.2,623.83 L161.2,624.55 L163.2,625.26 L165.2,625.96 L167.2,626.66 L169.2,627.35 L171.2,628.04 L173.2,628.71 L175.2,629.38 L177.2,630.04 L179.2,630.69 L181.2,631.34 L183.2,631.98 L185.2,632.6 L187.2,633.23 L189.2,633.84 L191.2,634.44 L193.2,635.04 L195.2,635.62 L197.2,636.19 L199.2,636.76 L201.2,637.31 L203.2,637.85 L205.2,638.39 L207.2,638.91 L209.2,639.41 L211.2,639.91 L213.2,640.39 L215.2,640.86 L217.2,641.31 L219.2,641.76 L221.2,642.18 L223.2,642.6 L225.2,642.99 L227.2,643.38 L229.2,643.74 L231.2,644.1 L233.2,644.43 L235.2,644.75 L237.2,645.05 L239.2,645.33 L241.2,645.6 L243.2,645.85 L245.2,646.08 L247.2,646.29 L249.2,646.48 L251.2,646.65 L253.2,646.8 L255.2,646.94 L257.2,647.05 L259.2,647.14 L261.2,647.22 L263.2,647.27 L265.2,647.3 L267.2,647.32 L269.2,647.31 L271.2,647.29 L273.2,647.24 L275.2,647.18 L277.2,647.1 L279.2,646.99 L281.2,646.87 L283.2,646.73 L285.2,646.56 L287.2,646.38 L289.2,646.18 L291.2,645.96 L293.2,645.72 L295.2,645.46 L297.2,645.18 L299.2,644.88 L301.2,644.56 L303.2,644.22 L305.2,643.86 L307.2,643.48 L309.2,643.08 L311.2,642.66 L313.2,642.22 L315.2,641.76 L317.2,641.28 L319.2,640.79 L321.2,640.27 L323.2,639.74 L325.2,639.19 L327.2,638.62 L329.2,638.03 L331.2,637.43 L333.2,636.81 L335.2,636.18 L337.2,635.53 L339.2,634.86 L341.2,634.18 L343.2,633.49 L345.2,632.78 L347.2,632.06 L349.2,631.32 L351.2,630.58 L353.2,629.82 L355.2,629.05 L357.2,628.26 L359.2,627.47 L361.2,626.67 L363.2,625.85 L365.2,625.03 L367.2,624.19 L369.2,623.35 L371.2,622.5 L373.2,621.64 L375.2,620.77 L377.2,619.9 L379.2,619.01 L381.2,618.12 L383.2,617.22 L385.2,616.31 L387.2,615.4 L389.2,614.48 L391.2,613.55 L393.2,612.61 L395.2,611.67 L397.2,610.72 L399.2,609.77 L401.2,608.8 L403.2,607.84 L405.2,606.86 L407.2,605.89 L409.2,604.9 L411.2,603.91 L413.2,602.92 L415.2,601.92 L417.2,600.91 L419.2,599.9 L421.2,598.89 L423.2,597.87 L425.2,596.84 L427.2,595.82 L429.2,594.79 L431.2,593.75 L433.2,592.71 L435.2,591.67 L437.2,590.63 L439.2,589.58 L441.2,588.53 L443.2,587.47 L445.2,586.41 L447.2,585.35 L449.2,584.29 L451.2,583.23 L453.2,582.16 L455.2,581.09 L457.2,580.02 L459.2,578.95 L461.2,577.88 L463.2,576.81 L465.2,575.73 L467.2,574.65 L469.2,573.58 L471.2,572.5 L473.2,571.42 L475.2,570.33 L477.2,569.25 L479.2,568.17 L481.2,567.08 L483.2,565.99 L485.2,564.91 L487.2,563.82 L489.2,562.73 L491.2,561.63 L493.2,560.54 L495.2,559.45 L497.2,558.35 L499.2,557.26 L501.2,556.16 L503.2,555.06 L505.2,553.96 L507.2,552.86 L509.2,551.76 L511.2,550.66 L513.2,549.55 L515.2,548.45 L517.2,547.34 L519.2,546.24 L521.2,545.13 L523.2,544.02 L525.2,542.91 L527.2,541.8 L529.2,540.69 L531.2,539.58 L533.2,538.46 L535.2,537.35 L537.2,536.23 L539.2,535.12 L541.2,534 L543.2,532.88 L545.2,531.76 L547.2,530.64 L549,529.4" stroke-width="1.5"/>
<path d="M55.2,579.5 L57.2,581.05 L59.2,582.76 L61.2,584.44 L63.2,586.07 L65.2,587.67 L67.2,589.23 L69.2,590.76 L71.2,592.26 L73.2,593.72 L75.2,595.14 L77.2,596.54 L79.2,597.9 L81.2,599.24 L83.2,600.54 L85.2,601.81 L87.2,603.06 L89.2,604.27 L91.2,605.46 L93.2,606.63 L95.2,607.77 L97.2,608.88 L99.2,609.97 L101.2,611.03 L103.2,612.08 L105.2,613.1 L107.2,614.09 L109.2,615.07 L111.2,616.03 L113.2,616.97 L115.2,617.89 L117.2,618.79 L119.2,619.68 L121.2,620.54 L123.2,621.39 L125.2,622.22 L127.2,623.04 L129.2,623.84 L131.2,624.62 L133.2,625.39 L135.2,626.13 L137.2,626.87 L139.2,627.58 L141.2,628.28 L143.2,628.97 L145.2,629.64 L147.2,630.29 L149.2,630.93 L151.2,631.56 L153.2,632.17 L155.2,632.76 L157.2,633.34 L159.2,633.91 L161.2,634.46 L163.2,635 L165.2,635.53 L167.2,636.04 L169.2,636.53 L171.2,637.02 L173.2,637.49 L175.2,637.95 L177.2,638.39 L179.2,638.83 L181.2,639.25 L183.2,639.66 L185.2,640.05 L187.2,640.44 L189.2,640.81 L191.2,641.17 L193.2,641.52 L195.2,641.86 L197.2,642.19 L199.2,642.51 L201.2,642.81 L203.2,643.11 L205.2,643.39 L207.2,643.67 L209.2,643.93 L211.2,644.19 L213.2,644.43 L215.2,644.67 L217.2,644.89 L219.2,645.1 L221.2,645.31 L223.2,645.51 L225.2,645.69 L227.2,645.87 L229.2,646.04 L231.2,646.2 L233.2,646.35 L235.2,646.5 L237.2,646.63 L239.2,646.76 L241.2,646.88 L243.2,646.99 L245.2,647.1 L247.2,647.19 L249.2,647.28 L251.2,647.36 L253.2,647.44 L255.2,647.51 L257.2,647.57 L259.2,647.62 L261.2,647.67 L263.2,647.71 L265.2,647.74 L267.2,647.77 L269.2,647.8 L271.2,647.81 L273.2,647.82 L275.2,647.83 L277.2,647.83 L279.2,647.83 L281.2,647.82 L283.2,647.8 L285.2,647.78 L287.2,647.76 L289.2,647.73 L291.2,647.69 L293.2,647.66 L295.2,647.61 L297.2,647.57 L299.2,647.52 L301.2,647.46 L303.2,647.41 L305.2,647.35 L307.2,647.28 L309.2,647.22 L311.2,647.15 L313.2,647.08 L315.2,647 L317.2,646.92 L319.2,646.84 L321.2,646.76 L323.2,646.67 L325.2,646.57 L327.2,646.48 L329.2,646.38 L331.2,646.27 L333.2,646.15 L335.2,646.04 L337.2,645.91 L339.2,645.78 L341.2,645.64 L343.2,645.5 L345.2,645.35 L347.2,645.19 L349.2,645.02 L351.2,644.84 L353.2,644.66 L355.2,644.47 L357.2,644.26 L359.2,644.05 L361.2,643.83 L363.2,643.6 L365.2,643.35 L367.2,643.1 L369.2,642.84 L371.2,642.56 L373.2,642.27 L375.2,641.97 L377.2,641.66 L379.2,641.34 L381.2,641 L383.2,640.65 L385.2,640.28 L387.2,639.91 L389.2,639.51 L391.2,639.11 L393.2,638.68 L395.2,638.25 L397.2,637.79 L399.2,637.33 L401.2,636.84 L403.2,636.34 L405.2,635.82 L407.2,635.29 L409.2,634.74 L411.2,634.17 L413.2,633.58 L415.2,632.97 L417.2,632.35 L419.2,631.7 L421.2,631.04 L423.2,630.36 L425.2,629.66 L427.2,628.93 L429.2,628.19 L431.2,627.43 L433.2,626.64 L435.2,625.84 L437.2,625.01 L439.2,624.16 L441.2,623.28 L443.2,622.39 L445.2,621.47 L447.2,620.53 L449.2,619.56 L451.2,618.57 L453.2,617.56 L455.2,616.52 L457.2,615.46 L459.2,614.37 L461.2,613.26 L463.2,612.12 L465.2,610.95 L467.2,609.76 L469.2,608.54 L471.2,607.29 L473.2,606.02 L475.2,604.72 L477.2,603.39 L479.2,602.03 L481.2,600.64 L483.2,599.22 L485.2,597.77 L487.2,596.29 L489.2,594.77 L491.2,593.22 L493.2,591.63 L495.2,590 L497.2,588.34 L499.2,586.64 L501.2,584.9 L503.2,583.12 L505.2,581.3 L507.2,579.44 L509.2,577.53 L511.2,575.58 L513.2,573.59 L515.2,571.55 L517.2,569.46 L519.2,567.33 L521.2,565.14 L523.2,562.91 L525.2,560.62 L527.2,558.29 L529.2,555.9 L531.2,553.46 L533.2,550.97 L535.2,548.42 L537.2,545.81 L539.2,543.15 L541.2,540.43 L543.2,537.64 L545.2,534.81 L547.2,531.9 L549,529.4" stroke-width="1.5"/>
<path d="M114.5,849.5 L114.71,847.71 L115.53,846.48 L116.35,845.25 L117.17,844.01 L117.99,842.78 L118.81,841.55 L119.64,840.32 L120.46,839.08 L121.29,837.85 L122.13,836.62 L122.96,835.39 L123.8,834.16 L124.63,832.93 L125.48,831.7 L126.32,830.47 L127.16,829.24 L128.01,828.02 L128.86,826.79 L129.71,825.57 L130.57,824.34 L131.42,823.12 L132.28,821.89 L133.14,820.67 L134.01,819.45 L134.87,818.23 L135.74,817.01 L136.61,815.8 L137.49,814.58 L138.36,813.37 L139.24,812.15 L140.12,810.94 L141.01,809.73 L141.89,808.52 L142.78,807.32 L143.68,806.11 L144.57,804.91 L145.47,803.7 L146.37,802.5 L147.27,801.3 L148.18,800.11 L149.09,798.91 L150,797.72 L150.91,796.53 L151.83,795.34 L152.75,794.15 L153.67,792.97 L154.6,791.78 L155.53,790.6 L156.46,789.42 L157.39,788.25 L158.33,787.07 L159.27,785.9 L160.22,784.73 L161.17,783.57 L162.12,782.4 L163.07,781.24 L164.03,780.08 L164.99,778.93 L165.95,777.77 L166.92,776.62 L167.88,775.48 L168.86,774.33 L169.83,773.19 L170.81,772.05 L171.8,770.91 L172.78,769.78 L173.77,768.65 L174.77,767.52 L175.76,766.4 L176.76,765.28 L177.77,764.16 L178.77,763.05 L179.78,761.94 L180.8,760.83 L181.81,759.73 L182.84,758.63 L183.86,757.53 L184.89,756.44 L185.92,755.35 L186.96,754.27 L188,753.19 L189.04,752.11 L190.09,751.03 L191.14,749.96 L192.19,748.9 L193.25,747.84 L194.31,746.78 L195.38,745.72 L196.45,744.67 L197.52,743.63 L198.6,742.59 L199.68,741.55 L200.77,740.52 L201.86,739.49 L202.95,738.47 L204.05,737.45 L205.15,736.43 L206.26,735.42 L207.37,734.42 L208.48,733.41 L209.6,732.42 L210.72,731.43 L211.85,730.44 L212.98,729.46 L214.11,728.48 L215.25,727.51 L216.4,726.54 L217.54,725.58 L218.7,724.62 L219.85,723.67 L221.01,722.72 L222.18,721.78 L223.35,720.85 L224.52,719.91 L225.7,718.99 L226.89,718.07 L228.07,717.15 L229.27,716.24 L230.46,715.34 L231.66,714.44 L232.87,713.55 L234.08,712.66 L235.29,711.78 L236.51,710.91 L237.73,710.04 L238.96,709.17 L240.19,708.32 L241.43,707.47 L242.67,706.62 L243.91,705.78 L245.16,704.95 L246.41,704.12 L247.67,703.3 L248.93,702.48 L250.19,701.68 L251.46,700.87 L252.73,700.08 L254.01,699.29 L255.29,698.51 L256.57,697.73 L257.86,696.96 L259.15,696.2 L260.45,695.44 L261.75,694.69 L263.05,693.95 L264.36,693.21 L265.67,692.48 L266.98,691.76 L268.3,691.05 L269.62,690.34 L270.95,689.64 L272.28,688.94 L273.61,688.25 L274.95,687.58 L276.29,686.9 L277.63,686.24 L278.98,685.58 L280.33,684.93 L281.69,684.29 L283.05,683.65 L284.41,683.02 L285.77,682.4 L287.14,681.79 L288.51,681.18 L289.89,680.59 L291.27,680 L292.65,679.42 L294.03,678.84 L295.42,678.28 L296.81,677.72 L298.21,677.17 L299.61,676.62 L301.01,676.09 L302.41,675.56 L303.82,675.05 L305.23,674.54 L306.65,674.04 L308.06,673.54 L309.48,673.06 L310.91,672.58 L312.33,672.12 L313.76,671.66 L315.19,671.21 L316.63,670.76 L318.07,670.33 L319.51,669.91 L320.95,669.49 L322.4,669.08 L323.85,668.69 L325.3,668.3 L326.76,667.92 L328.21,667.55 L329.67,667.18 L331.14,666.83 L332.6,666.49 L334.07,666.15 L335.54,665.83 L337.02,665.51 L338.49,665.2 L339.97,664.9 L341.45,664.62 L342.94,664.34 L344.43,664.07 L345.92,663.81 L347.41,663.56 L348.9,663.32 L350.4,663.09 L351.9,662.87 L353.4,662.66 L354.9,662.45 L356.41,662.26 L357.92,662.08 L359.42,661.91 L360.94,661.75 L362.45,661.6 L363.96,661.47 L365.47,661.34 L366.99,661.22 L368.51,661.12 L370.02,661.03 L371.54,660.94 L373.06,660.87 L374.57,660.82 L376.09,660.77 L377.61,660.74 L379.12,660.72 L380.64,660.71 L382.15,660.72 L383.67,660.74 L385.18,660.77 L386.69,660.81 L388.2,660.87 L389.71,660.94 L391.22,661.03 L392.72,661.13 L394.22,661.24 L395.72,661.37 L397.22,661.51 L398.72,661.67 L400.21,661.84 L401.7,662.02 L403.18,662.23 L404.67,662.44 L406.15,662.67 L407.62,662.92 L409.09,663.18 L410.56,663.46 L412.03,663.76 L413.49,664.07 L414.94,664.4 L416.39,664.74 L417.84,665.1 L419.28,665.48 L420.71,665.87 L422.15,666.28 L423.57,666.7 L424.99,667.15 L426.4,667.6 L427.81,668.08 L429.21,668.57 L430.61,669.07 L431.99,669.59 L433.38,670.13 L434.75,670.68 L436.12,671.25 L437.48,671.83 L438.83,672.43 L440.17,673.05 L441.51,673.68 L442.84,674.32 L444.16,674.98 L445.47,675.66 L446.77,676.35 L448.07,677.05 L449.35,677.77 L450.63,678.5 L451.89,679.25 L453.15,680.02 L454.4,680.79 L455.63,681.59 L456.86,682.39 L458.08,683.21 L459.28,684.05 L460.48,684.9 L461.66,685.76 L462.84,686.64 L464,687.53 L465.15,688.44 L466.29,689.36 L467.42,690.29 L468.53,691.23 L469.64,692.19 L470.74,693.16 L471.82,694.15 L472.89,695.14 L473.96,696.15 L475.01,697.17 L476.05,698.21 L477.08,699.25 L478.1,700.31 L479.11,701.38 L480.11,702.46 L481.1,703.55 L482.08,704.65 L483.05,705.77 L484.01,706.89 L484.96,708.03 L485.9,709.17 L486.83,710.33 L487.75,711.49 L488.66,712.67 L489.55,713.85 L490.44,715.05 L491.32,716.25 L492.19,717.46 L493.05,718.69 L493.9,719.92 L494.75,721.16 L495.58,722.41 L496.4,723.66 L497.21,724.93 L498.02,726.2 L498.81,727.48 L499.6,728.77 L500.37,730.07 L501.14,731.37 L501.9,732.68 L502.65,734 L503.39,735.33 L504.12,736.66 L504.84,738 L505.56,739.34 L506.26,740.69 L506.96,742.05 L507.65,743.41 L508.33,744.78 L509,746.16 L509.67,747.54 L510.32,748.92 L510.97,750.31 L511.61,751.71 L512.24,753.11 L512.86,754.51 L513.48,755.92 L514.08,757.33 L514.68,758.75 L515.27,760.17 L515.86,761.59 L516.43,763.02 L517,764.45 L517.56,765.89 L518.11,767.32 L518.66,768.77 L519.2,770.21 L519.73,771.65 L520.25,773.1 L520.77,774.55 L521.28,776.01 L521.78,777.46 L522.27,778.92 L522.76,780.37 L523.24,781.83 L523.72,783.29 L524.18,784.76 L524.64,786.22 L525.1,787.68 L525.54,789.15 L525.98,790.61 L526.42,792.08 L526.84,793.54 L527.27,795.01 L527.68,796.48 L528.09,797.95 L528.49,799.42 L528.89,800.88 L529.27,802.35 L529.66,803.82 L530.04,805.29 L530.41,806.76 L530.77,808.23 L531.13,809.7 L531.49,811.17 L531.83,812.64 L532.18,814.11 L532.51,815.58 L532.84,817.05 L533.17,818.51 L533.49,819.98 L533.8,821.45 L534.11,822.91 L534.42,824.38 L534.72,825.84 L535.01,827.3 L535.3,828.76 L535.58,830.22 L535.86,831.68 L536.13,833.14 L536.4,834.6 L536.67,836.05 L536.93,837.51 L537.18,838.96 L537.43,840.41 L537.67,841.86 L537.91,843.31 L538.15,844.75 L538.38,846.2 L538.61,847.64 L538.83,849.08 L539.05,850.52 L539.27,851.95 L539.48,853.38 L539.68,854.82 L539.88,856.24 L540.08,857.67 L540.28,859.09 L540.47,860.51 L540.65,861.93 L540.84,863.35 L541.02,864.76 L541.6,866.3" stroke-width="1.5"/>
<path d="M55,790.7 L57,792.56 L59,794.39 L61,796.24 L63,798.13 L65,800.04 L67,801.97 L69,803.92 L71,805.9 L73,807.89 L75,809.89 L77,811.91 L79,813.95 L81,815.99 L83,818.03 L85,820.09 L87,822.15 L89,824.2 L91,826.26 L93,828.32 L95,830.37 L97,832.41 L99,834.45 L101,836.47 L103,838.48 L105,840.48 L107,842.46 L109,844.42 L111,846.36 L113,848.28 L114.4,849.5" stroke-width="1.6"/>
<path d="M54.9,790.6 L54.99,792.6 L55.1,794.6 L55.21,796.6 L55.31,798.6 L55.42,800.6 L55.53,802.6 L55.63,804.6 L55.73,806.6 L55.84,808.6 L55.94,810.6 L56.04,812.6 L56.13,814.6 L56.23,816.6 L56.32,818.6 L56.41,820.6 L56.5,822.6 L56.59,824.6 L56.67,826.6 L56.75,828.6 L56.82,830.6 L56.9,832.6 L56.96,834.6 L57.03,836.6 L57.09,838.6 L57.14,840.6 L57.19,842.6 L57.24,844.6 L57.28,846.6 L57.32,848.6 L57.35,850.6 L57.37,852.6 L57.39,854.6 L57.4,856.6 L57.41,858.6 L57.41,860.6 L57.41,862.6 L57.39,864.6 L57.4,865.3" stroke-width="1.6"/>
<line x1="57.5" y1="849.13" x2="365.6" y2="849.9" stroke-width="1.5"/>
<line x1="250.5" y1="701.86" x2="370.4" y2="702.16" stroke-width="1.5"/>
<line x1="370.2" y1="701.9" x2="381.1" y2="660.2" stroke-width="1.4"/>
<line x1="381.2" y1="660.2" x2="381.3" y2="812.6" stroke-width="1.4"/>
<line x1="381.3" y1="812.74" x2="531" y2="813.11" stroke-width="1.5" stroke-dasharray="4.3 2.2"/>
<line x1="375.2" y1="812.7" x2="381.3" y2="812.7" stroke-width="1.2"/>
<line x1="277" y1="687.02" x2="463" y2="687.49" stroke-width="1.2" stroke-dasharray="1.3 1.35"/>
<line x1="365.6" y1="702" x2="365.6" y2="865.3" stroke-width="1.4" stroke-dasharray="3.8 2.2"/>
<path d="M365.8,702 L375.2,810 L375.3,865.3" stroke-width="1.4" stroke-dasharray="3.8 2.2"/>
<path d="M370.4,702 L380.6,797" stroke-width="1.4" stroke-dasharray="3.8 2.2"/>
<line x1="57.5" y1="860.9" x2="76.7" y2="860.9" stroke-width="1.2"/>
<line x1="62.96" y1="860.9" x2="76.7" y2="860.9" stroke-width="1.1"/>
<path d="M58.4,860.9 L64.1,858.8 L64.1,863 Z" fill="#000" stroke="none"/>
<line x1="384.86" y1="677.9" x2="387.9" y2="677.9" stroke-width="1.1"/>
<path d="M382.3,677.9 L385.5,676.7 L385.5,679.1 Z" fill="#000" stroke="none"/>
<line x1="379.1" y1="762.5" x2="390.7" y2="762.5" stroke-width="1.2"/>
<line x1="386.76" y1="762.5" x2="390.7" y2="762.5" stroke-width="1.1"/>
<path d="M382.2,762.5 L387.9,760.3 L387.9,764.7 Z" fill="#000" stroke="none"/>
<line x1="370" y1="844.9" x2="390.7" y2="844.9" stroke-width="1.2"/>
<line x1="378" y1="844.9" x2="390.7" y2="844.9" stroke-width="1.1"/>
<path d="M373.6,844.9 L379.1,842.8 L379.1,847 Z" fill="#000" stroke="none"/>
</g>
<g fill="#000" stroke="none">
<g transform="rotate(0.14 302 218)">
<text x="48.5" y="407.8" font-family='"Liberation Sans", sans-serif' font-size="10.2" text-anchor="end">400</text>
<text x="48.5" y="375.47" font-family='"Liberation Sans", sans-serif' font-size="10.2" text-anchor="end">600</text>
<text x="48.5" y="343.14" font-family='"Liberation Sans", sans-serif' font-size="10.2" text-anchor="end">800</text>
<text x="48.5" y="310.81" font-family='"Liberation Sans", sans-serif' font-size="10.2" text-anchor="end">1000</text>
<text x="48.5" y="278.48" font-family='"Liberation Sans", sans-serif' font-size="10.2" text-anchor="end">1200</text>
<text x="48.5" y="246.15" font-family='"Liberation Sans", sans-serif' font-size="10.2" text-anchor="end">1400</text>
<text x="48.5" y="213.82" font-family='"Liberation Sans", sans-serif' font-size="10.2" text-anchor="end">1600</text>
<text x="48.5" y="181.49" font-family='"Liberation Sans", sans-serif' font-size="10.2" text-anchor="end">1800</text>
<text x="48.5" y="149.16" font-family='"Liberation Sans", sans-serif' font-size="10.2" text-anchor="end">2000</text>
<text x="48.5" y="116.83" font-family='"Liberation Sans", sans-serif' font-size="10.2" text-anchor="end">2200</text>
<text x="48.5" y="84.5" font-family='"Liberation Sans", sans-serif' font-size="10.2" text-anchor="end">2400</text>
<text x="48.5" y="52.17" font-family='"Liberation Sans", sans-serif' font-size="10.2" text-anchor="end">2600</text>
<text x="55.3" y="418" font-family='"Liberation Sans", sans-serif' font-size="10.2" text-anchor="middle">0</text>
<text x="104.62" y="418" font-family='"Liberation Sans", sans-serif' font-size="10.2" text-anchor="middle">10</text>
<text x="153.94" y="418" font-family='"Liberation Sans", sans-serif' font-size="10.2" text-anchor="middle">20</text>
<text x="203.26" y="418" font-family='"Liberation Sans", sans-serif' font-size="10.2" text-anchor="middle">30</text>
<text x="252.58" y="418" font-family='"Liberation Sans", sans-serif' font-size="10.2" text-anchor="middle">40</text>
<text x="301.9" y="418" font-family='"Liberation Sans", sans-serif' font-size="10.2" text-anchor="middle">50</text>
<text x="351.22" y="418" font-family='"Liberation Sans", sans-serif' font-size="10.2" text-anchor="middle">60</text>
<text x="400.54" y="418" font-family='"Liberation Sans", sans-serif' font-size="10.2" text-anchor="middle">70</text>
<text x="449.86" y="418" font-family='"Liberation Sans", sans-serif' font-size="10.2" text-anchor="middle">80</text>
<text x="499.18" y="418" font-family='"Liberation Sans", sans-serif' font-size="10.2" text-anchor="middle">90</text>
<text x="548.5" y="418" font-family='"Liberation Sans", sans-serif' font-size="10.2" text-anchor="middle">100</text>
<text x="55.3" y="25.7" font-family='"Liberation Sans", sans-serif' font-size="10.2" text-anchor="middle">0</text>
<text x="81.2" y="25.7" font-family='"Liberation Sans", sans-serif' font-size="10.2" text-anchor="middle">10</text>
<text x="109.99" y="25.7" font-family='"Liberation Sans", sans-serif' font-size="10.2" text-anchor="middle">20</text>
<text x="142.17" y="25.7" font-family='"Liberation Sans", sans-serif' font-size="10.2" text-anchor="middle">30</text>
<text x="178.39" y="25.7" font-family='"Liberation Sans", sans-serif' font-size="10.2" text-anchor="middle">40</text>
<text x="219.45" y="25.7" font-family='"Liberation Sans", sans-serif' font-size="10.2" text-anchor="middle">50</text>
<text x="266.4" y="25.7" font-family='"Liberation Sans", sans-serif' font-size="10.2" text-anchor="middle">60</text>
<text x="320.59" y="25.7" font-family='"Liberation Sans", sans-serif' font-size="10.2" text-anchor="middle">70</text>
<text x="383.85" y="25.7" font-family='"Liberation Sans", sans-serif' font-size="10.2" text-anchor="middle">80</text>
<text x="458.66" y="25.7" font-family='"Liberation Sans", sans-serif' font-size="10.2" text-anchor="middle">90</text>
<text x="548.5" y="25.7" font-family='"Liberation Sans", sans-serif' font-size="10.2" text-anchor="middle">100</text>
</g>
<g transform="rotate(0.14 302 678)">
<text x="47.8" y="869.61" font-family='"Liberation Sans", sans-serif' font-size="10.2" text-anchor="end">600</text>
<text x="47.8" y="816.05" font-family='"Liberation Sans", sans-serif' font-size="10.2" text-anchor="end">800</text>
<text x="47.8" y="762.49" font-family='"Liberation Sans", sans-serif' font-size="10.2" text-anchor="end">1000</text>
<text x="47.8" y="708.93" font-family='"Liberation Sans", sans-serif' font-size="10.2" text-anchor="end">1200</text>
<text x="47.8" y="655.37" font-family='"Liberation Sans", sans-serif' font-size="10.2" text-anchor="end">1400</text>
<text x="47.8" y="601.82" font-family='"Liberation Sans", sans-serif' font-size="10.2" text-anchor="end">1600</text>
<text x="47.8" y="548.26" font-family='"Liberation Sans", sans-serif' font-size="10.2" text-anchor="end">1800</text>
<text x="47.8" y="494.7" font-family='"Liberation Sans", sans-serif' font-size="10.2" text-anchor="end">2000</text>
<text x="54.6" y="880.6" font-family='"Liberation Sans", sans-serif' font-size="10.2" text-anchor="middle">0</text>
<text x="104.1" y="880.6" font-family='"Liberation Sans", sans-serif' font-size="10.2" text-anchor="middle">10</text>
<text x="153.6" y="880.6" font-family='"Liberation Sans", sans-serif' font-size="10.2" text-anchor="middle">20</text>
<text x="203.1" y="880.6" font-family='"Liberation Sans", sans-serif' font-size="10.2" text-anchor="middle">30</text>
<text x="252.6" y="880.6" font-family='"Liberation Sans", sans-serif' font-size="10.2" text-anchor="middle">40</text>
<text x="302.1" y="880.6" font-family='"Liberation Sans", sans-serif' font-size="10.2" text-anchor="middle">50</text>
<text x="351.6" y="880.6" font-family='"Liberation Sans", sans-serif' font-size="10.2" text-anchor="middle">60</text>
<text x="401.1" y="880.6" font-family='"Liberation Sans", sans-serif' font-size="10.2" text-anchor="middle">70</text>
<text x="450.6" y="880.6" font-family='"Liberation Sans", sans-serif' font-size="10.2" text-anchor="middle">80</text>
<text x="500.1" y="880.6" font-family='"Liberation Sans", sans-serif' font-size="10.2" text-anchor="middle">90</text>
<text x="549.6" y="880.6" font-family='"Liberation Sans", sans-serif' font-size="10.2" text-anchor="middle">100</text>
<text x="54.6" y="484.4" font-family='"Liberation Sans", sans-serif' font-size="10.2" text-anchor="middle">0</text>
<text x="100.53" y="484.4" font-family='"Liberation Sans", sans-serif' font-size="10.2" text-anchor="middle">10</text>
<text x="147.21" y="484.4" font-family='"Liberation Sans", sans-serif' font-size="10.2" text-anchor="middle">20</text>
<text x="194.64" y="484.4" font-family='"Liberation Sans", sans-serif' font-size="10.2" text-anchor="middle">30</text>
<text x="242.86" y="484.4" font-family='"Liberation Sans", sans-serif' font-size="10.2" text-anchor="middle">40</text>
<text x="291.87" y="484.4" font-family='"Liberation Sans", sans-serif' font-size="10.2" text-anchor="middle">50</text>
<text x="341.69" y="484.4" font-family='"Liberation Sans", sans-serif' font-size="10.2" text-anchor="middle">60</text>
<text x="392.36" y="484.4" font-family='"Liberation Sans", sans-serif' font-size="10.2" text-anchor="middle">70</text>
<text x="443.88" y="484.4" font-family='"Liberation Sans", sans-serif' font-size="10.2" text-anchor="middle">80</text>
<text x="496.29" y="484.4" font-family='"Liberation Sans", sans-serif' font-size="10.2" text-anchor="middle">90</text>
<text x="549.6" y="484.4" font-family='"Liberation Sans", sans-serif' font-size="10.2" text-anchor="middle">100</text>
</g>
<text x="0.6" y="14" font-family='"Liberation Sans", sans-serif' font-size="17.8" textLength="20.4" lengthAdjust="spacingAndGlyphs" font-weight="bold">(a)</text>
<text transform="translate(197.5,11) scale(0.9,1)" font-family='"DejaVu Serif", serif' font-size="12.6" textLength="51.78" lengthAdjust="spacing">Weight</text>
<text transform="translate(254.3,11) scale(0.9,1)" font-family='"DejaVu Serif", serif' font-size="12.6" textLength="61" lengthAdjust="spacing">Percent</text>
<text transform="translate(318.9,11) scale(0.9,1)" font-family='"DejaVu Serif", serif' font-size="12.6" textLength="98.67" lengthAdjust="spacing">Molybdenum</text>
<text transform="translate(195.3,434.2) scale(0.9,1)" font-family='"DejaVu Serif", serif' font-size="12.6" textLength="54.22" lengthAdjust="spacing">Atomic</text>
<text transform="translate(254.3,434.2) scale(0.9,1)" font-family='"DejaVu Serif", serif' font-size="12.6" textLength="60.67" lengthAdjust="spacing">Percent</text>
<text transform="translate(319.1,434.2) scale(0.9,1)" font-family='"DejaVu Serif", serif' font-size="12.6" textLength="98.44" lengthAdjust="spacing">Molybdenum</text>
<text x="55.2" y="435.5" font-family='"Liberation Serif", serif' font-size="14.3" textLength="12.2" lengthAdjust="spacingAndGlyphs">Ti</text>
<text x="549.6" y="436.4" font-family='"Liberation Serif", serif' font-size="14"><tspan textLength="9" lengthAdjust="spacingAndGlyphs">M</tspan><tspan x="559.6">o</tspan></text>
<text transform="translate(11.8,275.7) rotate(-90)" font-family='"Liberation Serif", serif' font-size="14.2" textLength="115.7" lengthAdjust="spacing">Temperature &#176;C</text>
<text transform="translate(144.6,84.8) scale(0.8,1)" font-family='"Liberation Serif", serif' font-size="20.4" stroke="#000" stroke-width="0.35">L</text>
<text x="250.2" y="280.9" font-family='"Liberation Serif", serif' font-size="15" textLength="56.4" lengthAdjust="spacingAndGlyphs" stroke="#000" stroke-width="0.25">(<tspan font-style="italic">&#946;</tspan>Ti,Mo)</text>
<text x="88.4" y="388.6" font-family='"Liberation Serif", serif' font-size="15" textLength="33.8" lengthAdjust="spacingAndGlyphs" stroke="#000" stroke-width="0.25">(<tspan font-style="italic">&#945;</tspan>Ti)</text>
<text x="56.4" y="206.7" font-family='"Liberation Serif", serif' font-size="10" textLength="32.6" lengthAdjust="spacingAndGlyphs" font-weight="bold">1670<tspan dy="-5">o</tspan><tspan dy="5" font-size="9.2">C</tspan></text>
<text x="515.2" y="44.7" font-family='"Liberation Sans", sans-serif' font-size="9.8" textLength="33.7" lengthAdjust="spacingAndGlyphs" font-weight="bold">2823<tspan dy="-4.9">o</tspan><tspan dy="4.9" font-size="9.02">C</tspan></text>
<text x="56.8" y="325.9" font-family='"Liberation Sans", sans-serif' font-size="9.8" textLength="28" lengthAdjust="spacingAndGlyphs" font-weight="bold">882<tspan dy="-4.9">o</tspan><tspan dy="4.9" font-size="9.02">C</tspan></text>
<text x="196.9" y="329.3" font-family='"Liberation Sans", sans-serif' font-size="9.6" textLength="35.2" lengthAdjust="spacingAndGlyphs" stroke="#000" stroke-width="0.3">~850<tspan dy="-4.8">o</tspan><tspan dy="4.8" font-size="8.83">C</tspan></text>
<text x="195.8" y="355.3" font-family='"Liberation Sans", sans-serif' font-size="9.6" textLength="34.9" lengthAdjust="spacingAndGlyphs" stroke="#000" stroke-width="0.3">~695<tspan dy="-4.8">o</tspan><tspan dy="4.8" font-size="8.83">C</tspan></text>
<text x="104" y="366.5" font-family='"Liberation Serif", serif' font-size="9.6" textLength="16.1" lengthAdjust="spacingAndGlyphs" font-weight="bold">~12</text>
<text x="0.6" y="482.6" font-family='"Liberation Sans", sans-serif' font-size="17.8" textLength="21.1" lengthAdjust="spacingAndGlyphs" font-weight="bold">(b)</text>
<text transform="translate(203.9,468.9) scale(0.9,1)" font-family='"DejaVu Serif", serif' font-size="12.6" textLength="52.44" lengthAdjust="spacing">Weight</text>
<text transform="translate(260.8,468.9) scale(0.9,1)" font-family='"DejaVu Serif", serif' font-size="12.6" textLength="60.44" lengthAdjust="spacing">Percent</text>
<text transform="translate(324.8,468.9) scale(0.9,1)" font-family='"DejaVu Serif", serif' font-size="12.6" textLength="84.33" lengthAdjust="spacing">Chromium</text>
<text transform="translate(201.6,896.2) scale(0.9,1)" font-family='"DejaVu Serif", serif' font-size="12.6" textLength="56.22" lengthAdjust="spacing">Atomic</text>
<text transform="translate(261.1,896.2) scale(0.9,1)" font-family='"DejaVu Serif", serif' font-size="12.6" textLength="60.67" lengthAdjust="spacing">Percent</text>
<text transform="translate(325.5,896.2) scale(0.9,1)" font-family='"DejaVu Serif", serif' font-size="12.6" textLength="83.56" lengthAdjust="spacing">Chromium</text>
<text x="54.6" y="898.3" font-family='"Liberation Serif", serif' font-size="14.3" textLength="11.8" lengthAdjust="spacingAndGlyphs">Ti</text>
<text x="550.8" y="898.7" font-family='"Liberation Serif", serif' font-size="14.3" textLength="14.6" lengthAdjust="spacingAndGlyphs">Cr</text>
<text transform="translate(11.6,736) rotate(-90)" font-family='"Liberation Serif", serif' font-size="14.2" textLength="116.1" lengthAdjust="spacing">Temperature &#176;C</text>
<text transform="translate(263.4,587.5) scale(0.78,1)" font-family='"Liberation Serif", serif' font-size="20.4" stroke="#000" stroke-width="0.35">L</text>
<text x="105" y="668.4" font-family='"Liberation Serif", serif' font-size="15" textLength="54.2" lengthAdjust="spacingAndGlyphs" stroke="#000" stroke-width="0.25">(<tspan font-style="italic">&#946;</tspan>Ti,Cr)</text>
<text x="78.2" y="865" font-family='"Liberation Serif", serif' font-size="9.8" font-weight="bold" textLength="21.9" lengthAdjust="spacingAndGlyphs">(<tspan font-style="italic">&#945;</tspan>Ti)</text>
<text x="55.6" y="578.3" font-family='"Liberation Serif", serif' font-size="10" textLength="32.8" lengthAdjust="spacingAndGlyphs" font-weight="bold">1670<tspan dy="-5">o</tspan><tspan dy="5" font-size="9.2">C</tspan></text>
<text x="518" y="529" font-family='"Liberation Serif", serif' font-size="10.2" textLength="33.9" lengthAdjust="spacingAndGlyphs" font-weight="bold">1863<tspan dy="-5.1">o</tspan><tspan dy="5.1" font-size="9.38">C</tspan></text>
<text x="260.5" y="647" font-family='"Liberation Serif", serif' font-size="10" textLength="31.8" lengthAdjust="spacingAndGlyphs" stroke="#000" stroke-width="0.3">1410<tspan dy="-5">o</tspan><tspan dy="5" font-size="9.2">C</tspan></text>
<text x="372.5" y="659.1" font-family='"Liberation Serif", serif' font-size="10" textLength="32.4" lengthAdjust="spacingAndGlyphs" stroke="#000" stroke-width="0.3">1370<tspan dy="-5">o</tspan><tspan dy="5" font-size="9.2">C</tspan></text>
<text x="322.4" y="685.4" font-family='"Liberation Serif", serif' font-size="10" textLength="38.5" lengthAdjust="spacingAndGlyphs" stroke="#000" stroke-width="0.3">~1270<tspan dy="-5">o</tspan><tspan dy="5" font-size="9.2">C</tspan></text>
<text x="287.6" y="700.2" font-family='"Liberation Serif", serif' font-size="10" textLength="39.7" lengthAdjust="spacingAndGlyphs" stroke="#000" stroke-width="0.3">~1220<tspan dy="-5">o</tspan><tspan dy="5" font-size="9.2">C</tspan></text>
<text x="56.3" y="790.5" font-family='"Liberation Sans", sans-serif' font-size="9.8" textLength="27.6" lengthAdjust="spacingAndGlyphs" stroke="#000" stroke-width="0.3">882<tspan dy="-4.9">o</tspan><tspan dy="4.9" font-size="9.02">C</tspan></text>
<text x="152" y="848.8" font-family='"Liberation Sans", sans-serif' font-size="9.6" textLength="27.8" lengthAdjust="spacingAndGlyphs" stroke="#000" stroke-width="0.3">667<tspan dy="-4.8">o</tspan><tspan dy="4.8" font-size="8.83">C</tspan></text>
<text x="430.7" y="812.5" font-family='"Liberation Sans", sans-serif' font-size="9.6" textLength="35.3" lengthAdjust="spacingAndGlyphs" stroke="#000" stroke-width="0.3">~800<tspan dy="-4.8">o</tspan><tspan dy="4.8" font-size="8.83">C</tspan></text>
<text x="391.6" y="681.3" font-family='"Liberation Serif", serif' font-size="15" textLength="47" lengthAdjust="spacingAndGlyphs" stroke="#000" stroke-width="0.25"><tspan font-style="italic">&#947;</tspan>TiCr<tspan dx="1.5" dy="2.7" font-size="11.5">2</tspan></text>
<text x="393.6" y="767.6" font-family='"Liberation Serif", serif' font-size="15" textLength="47.5" lengthAdjust="spacingAndGlyphs" stroke="#000" stroke-width="0.25"><tspan font-style="italic">&#946;</tspan>TiCr<tspan dx="1.5" dy="2.7" font-size="11.5">2</tspan></text>
<text x="392.6" y="849.3" font-family='"Liberation Serif", serif' font-size="15" textLength="47.1" lengthAdjust="spacingAndGlyphs" stroke="#000" stroke-width="0.25"><tspan font-style="italic">&#945;</tspan>TiCr<tspan dx="1.5" dy="2.7" font-size="11.5">2</tspan></text>
</g>
</svg>
</body></html>
